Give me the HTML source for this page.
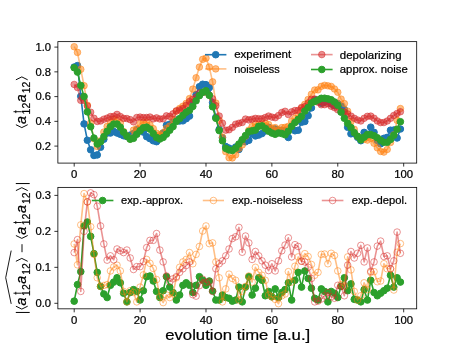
<!DOCTYPE html><html><head><meta charset="utf-8"><style>html,body{margin:0;padding:0;background:#fff;overflow:hidden}svg{display:block;will-change:transform}</style></head><body><svg width="463" height="347" viewBox="0 0 463 347"><rect width="463" height="347" fill="#fff"/><defs><clipPath id="c1"><rect x="57.875" y="41.64" width="358.825" height="121.45"/></clipPath><clipPath id="c2"><rect x="57.875" y="187.38" width="358.825" height="121.44999999999999"/></clipPath></defs><g clip-path="url(#c1)" opacity="1"><path d="M74.19,67.06 L77.48,65.64 L80.78,96.30 L84.07,123.92 L87.37,140.27 L90.66,149.78 L93.96,155.48 L97.25,154.92 L100.55,147.28 L103.84,139.24 L107.14,133.07 L110.43,133.02 L113.73,131.46 L117.02,133.02 L120.32,134.32 L123.61,135.73 L126.91,136.62 L130.20,135.12 L133.50,133.65 L136.79,129.80 L140.09,129.58 L143.38,132.08 L146.68,136.67 L149.97,138.68 L153.27,140.79 L156.56,141.66 L159.86,137.15 L163.15,133.04 L166.45,125.26 L169.74,124.23 L173.04,122.65 L176.33,120.16 L179.63,120.99 L182.92,120.82 L186.22,118.68 L189.51,116.08 L192.81,102.59 L196.10,94.58 L199.40,86.70 L202.69,84.27 L205.99,84.68 L209.28,87.65 L212.58,102.66 L215.87,117.38 L219.17,129.39 L222.46,137.78 L225.76,146.51 L229.05,148.12 L232.35,149.60 L235.64,147.02 L238.93,149.48 L242.23,140.37 L245.52,141.78 L248.82,140.32 L252.11,134.01 L255.41,135.92 L258.70,135.06 L262.00,133.55 L265.29,130.89 L268.59,127.30 L271.88,130.63 L275.18,129.02 L278.47,130.28 L281.77,130.27 L285.06,130.68 L288.36,137.49 L291.65,127.93 L294.95,130.75 L298.24,130.22 L301.54,122.25 L304.83,121.49 L308.13,115.71 L311.42,107.89 L314.72,99.67 L318.01,101.04 L321.31,103.25 L324.60,102.23 L327.90,99.67 L331.19,103.88 L334.49,105.67 L337.78,103.54 L341.08,105.99 L344.37,109.67 L347.67,127.31 L350.96,133.82 L354.26,133.79 L357.55,137.33 L360.85,140.69 L364.14,132.41 L367.44,135.47 L370.73,127.19 L374.03,132.30 L377.32,140.42 L380.62,143.82 L383.91,138.33 L387.21,137.38 L390.50,130.22 L393.80,130.02 L397.09,137.98 L400.39,129.01" fill="none" stroke="#1f77b4" stroke-opacity="1.0" stroke-width="1.6" stroke-linejoin="round" stroke-linecap="butt"/><circle cx="74.19" cy="67.06" r="3.3" fill="#1f77b4" fill-opacity="1.0" stroke="#1f77b4" stroke-opacity="1.0" stroke-width="1"/><circle cx="77.48" cy="65.64" r="3.3" fill="#1f77b4" fill-opacity="1.0" stroke="#1f77b4" stroke-opacity="1.0" stroke-width="1"/><circle cx="80.78" cy="96.30" r="3.3" fill="#1f77b4" fill-opacity="1.0" stroke="#1f77b4" stroke-opacity="1.0" stroke-width="1"/><circle cx="84.07" cy="123.92" r="3.3" fill="#1f77b4" fill-opacity="1.0" stroke="#1f77b4" stroke-opacity="1.0" stroke-width="1"/><circle cx="87.37" cy="140.27" r="3.3" fill="#1f77b4" fill-opacity="1.0" stroke="#1f77b4" stroke-opacity="1.0" stroke-width="1"/><circle cx="90.66" cy="149.78" r="3.3" fill="#1f77b4" fill-opacity="1.0" stroke="#1f77b4" stroke-opacity="1.0" stroke-width="1"/><circle cx="93.96" cy="155.48" r="3.3" fill="#1f77b4" fill-opacity="1.0" stroke="#1f77b4" stroke-opacity="1.0" stroke-width="1"/><circle cx="97.25" cy="154.92" r="3.3" fill="#1f77b4" fill-opacity="1.0" stroke="#1f77b4" stroke-opacity="1.0" stroke-width="1"/><circle cx="100.55" cy="147.28" r="3.3" fill="#1f77b4" fill-opacity="1.0" stroke="#1f77b4" stroke-opacity="1.0" stroke-width="1"/><circle cx="103.84" cy="139.24" r="3.3" fill="#1f77b4" fill-opacity="1.0" stroke="#1f77b4" stroke-opacity="1.0" stroke-width="1"/><circle cx="107.14" cy="133.07" r="3.3" fill="#1f77b4" fill-opacity="1.0" stroke="#1f77b4" stroke-opacity="1.0" stroke-width="1"/><circle cx="110.43" cy="133.02" r="3.3" fill="#1f77b4" fill-opacity="1.0" stroke="#1f77b4" stroke-opacity="1.0" stroke-width="1"/><circle cx="113.73" cy="131.46" r="3.3" fill="#1f77b4" fill-opacity="1.0" stroke="#1f77b4" stroke-opacity="1.0" stroke-width="1"/><circle cx="117.02" cy="133.02" r="3.3" fill="#1f77b4" fill-opacity="1.0" stroke="#1f77b4" stroke-opacity="1.0" stroke-width="1"/><circle cx="120.32" cy="134.32" r="3.3" fill="#1f77b4" fill-opacity="1.0" stroke="#1f77b4" stroke-opacity="1.0" stroke-width="1"/><circle cx="123.61" cy="135.73" r="3.3" fill="#1f77b4" fill-opacity="1.0" stroke="#1f77b4" stroke-opacity="1.0" stroke-width="1"/><circle cx="126.91" cy="136.62" r="3.3" fill="#1f77b4" fill-opacity="1.0" stroke="#1f77b4" stroke-opacity="1.0" stroke-width="1"/><circle cx="130.20" cy="135.12" r="3.3" fill="#1f77b4" fill-opacity="1.0" stroke="#1f77b4" stroke-opacity="1.0" stroke-width="1"/><circle cx="133.50" cy="133.65" r="3.3" fill="#1f77b4" fill-opacity="1.0" stroke="#1f77b4" stroke-opacity="1.0" stroke-width="1"/><circle cx="136.79" cy="129.80" r="3.3" fill="#1f77b4" fill-opacity="1.0" stroke="#1f77b4" stroke-opacity="1.0" stroke-width="1"/><circle cx="140.09" cy="129.58" r="3.3" fill="#1f77b4" fill-opacity="1.0" stroke="#1f77b4" stroke-opacity="1.0" stroke-width="1"/><circle cx="143.38" cy="132.08" r="3.3" fill="#1f77b4" fill-opacity="1.0" stroke="#1f77b4" stroke-opacity="1.0" stroke-width="1"/><circle cx="146.68" cy="136.67" r="3.3" fill="#1f77b4" fill-opacity="1.0" stroke="#1f77b4" stroke-opacity="1.0" stroke-width="1"/><circle cx="149.97" cy="138.68" r="3.3" fill="#1f77b4" fill-opacity="1.0" stroke="#1f77b4" stroke-opacity="1.0" stroke-width="1"/><circle cx="153.27" cy="140.79" r="3.3" fill="#1f77b4" fill-opacity="1.0" stroke="#1f77b4" stroke-opacity="1.0" stroke-width="1"/><circle cx="156.56" cy="141.66" r="3.3" fill="#1f77b4" fill-opacity="1.0" stroke="#1f77b4" stroke-opacity="1.0" stroke-width="1"/><circle cx="159.86" cy="137.15" r="3.3" fill="#1f77b4" fill-opacity="1.0" stroke="#1f77b4" stroke-opacity="1.0" stroke-width="1"/><circle cx="163.15" cy="133.04" r="3.3" fill="#1f77b4" fill-opacity="1.0" stroke="#1f77b4" stroke-opacity="1.0" stroke-width="1"/><circle cx="166.45" cy="125.26" r="3.3" fill="#1f77b4" fill-opacity="1.0" stroke="#1f77b4" stroke-opacity="1.0" stroke-width="1"/><circle cx="169.74" cy="124.23" r="3.3" fill="#1f77b4" fill-opacity="1.0" stroke="#1f77b4" stroke-opacity="1.0" stroke-width="1"/><circle cx="173.04" cy="122.65" r="3.3" fill="#1f77b4" fill-opacity="1.0" stroke="#1f77b4" stroke-opacity="1.0" stroke-width="1"/><circle cx="176.33" cy="120.16" r="3.3" fill="#1f77b4" fill-opacity="1.0" stroke="#1f77b4" stroke-opacity="1.0" stroke-width="1"/><circle cx="179.63" cy="120.99" r="3.3" fill="#1f77b4" fill-opacity="1.0" stroke="#1f77b4" stroke-opacity="1.0" stroke-width="1"/><circle cx="182.92" cy="120.82" r="3.3" fill="#1f77b4" fill-opacity="1.0" stroke="#1f77b4" stroke-opacity="1.0" stroke-width="1"/><circle cx="186.22" cy="118.68" r="3.3" fill="#1f77b4" fill-opacity="1.0" stroke="#1f77b4" stroke-opacity="1.0" stroke-width="1"/><circle cx="189.51" cy="116.08" r="3.3" fill="#1f77b4" fill-opacity="1.0" stroke="#1f77b4" stroke-opacity="1.0" stroke-width="1"/><circle cx="192.81" cy="102.59" r="3.3" fill="#1f77b4" fill-opacity="1.0" stroke="#1f77b4" stroke-opacity="1.0" stroke-width="1"/><circle cx="196.10" cy="94.58" r="3.3" fill="#1f77b4" fill-opacity="1.0" stroke="#1f77b4" stroke-opacity="1.0" stroke-width="1"/><circle cx="199.40" cy="86.70" r="3.3" fill="#1f77b4" fill-opacity="1.0" stroke="#1f77b4" stroke-opacity="1.0" stroke-width="1"/><circle cx="202.69" cy="84.27" r="3.3" fill="#1f77b4" fill-opacity="1.0" stroke="#1f77b4" stroke-opacity="1.0" stroke-width="1"/><circle cx="205.99" cy="84.68" r="3.3" fill="#1f77b4" fill-opacity="1.0" stroke="#1f77b4" stroke-opacity="1.0" stroke-width="1"/><circle cx="209.28" cy="87.65" r="3.3" fill="#1f77b4" fill-opacity="1.0" stroke="#1f77b4" stroke-opacity="1.0" stroke-width="1"/><circle cx="212.58" cy="102.66" r="3.3" fill="#1f77b4" fill-opacity="1.0" stroke="#1f77b4" stroke-opacity="1.0" stroke-width="1"/><circle cx="215.87" cy="117.38" r="3.3" fill="#1f77b4" fill-opacity="1.0" stroke="#1f77b4" stroke-opacity="1.0" stroke-width="1"/><circle cx="219.17" cy="129.39" r="3.3" fill="#1f77b4" fill-opacity="1.0" stroke="#1f77b4" stroke-opacity="1.0" stroke-width="1"/><circle cx="222.46" cy="137.78" r="3.3" fill="#1f77b4" fill-opacity="1.0" stroke="#1f77b4" stroke-opacity="1.0" stroke-width="1"/><circle cx="225.76" cy="146.51" r="3.3" fill="#1f77b4" fill-opacity="1.0" stroke="#1f77b4" stroke-opacity="1.0" stroke-width="1"/><circle cx="229.05" cy="148.12" r="3.3" fill="#1f77b4" fill-opacity="1.0" stroke="#1f77b4" stroke-opacity="1.0" stroke-width="1"/><circle cx="232.35" cy="149.60" r="3.3" fill="#1f77b4" fill-opacity="1.0" stroke="#1f77b4" stroke-opacity="1.0" stroke-width="1"/><circle cx="235.64" cy="147.02" r="3.3" fill="#1f77b4" fill-opacity="1.0" stroke="#1f77b4" stroke-opacity="1.0" stroke-width="1"/><circle cx="238.93" cy="149.48" r="3.3" fill="#1f77b4" fill-opacity="1.0" stroke="#1f77b4" stroke-opacity="1.0" stroke-width="1"/><circle cx="242.23" cy="140.37" r="3.3" fill="#1f77b4" fill-opacity="1.0" stroke="#1f77b4" stroke-opacity="1.0" stroke-width="1"/><circle cx="245.52" cy="141.78" r="3.3" fill="#1f77b4" fill-opacity="1.0" stroke="#1f77b4" stroke-opacity="1.0" stroke-width="1"/><circle cx="248.82" cy="140.32" r="3.3" fill="#1f77b4" fill-opacity="1.0" stroke="#1f77b4" stroke-opacity="1.0" stroke-width="1"/><circle cx="252.11" cy="134.01" r="3.3" fill="#1f77b4" fill-opacity="1.0" stroke="#1f77b4" stroke-opacity="1.0" stroke-width="1"/><circle cx="255.41" cy="135.92" r="3.3" fill="#1f77b4" fill-opacity="1.0" stroke="#1f77b4" stroke-opacity="1.0" stroke-width="1"/><circle cx="258.70" cy="135.06" r="3.3" fill="#1f77b4" fill-opacity="1.0" stroke="#1f77b4" stroke-opacity="1.0" stroke-width="1"/><circle cx="262.00" cy="133.55" r="3.3" fill="#1f77b4" fill-opacity="1.0" stroke="#1f77b4" stroke-opacity="1.0" stroke-width="1"/><circle cx="265.29" cy="130.89" r="3.3" fill="#1f77b4" fill-opacity="1.0" stroke="#1f77b4" stroke-opacity="1.0" stroke-width="1"/><circle cx="268.59" cy="127.30" r="3.3" fill="#1f77b4" fill-opacity="1.0" stroke="#1f77b4" stroke-opacity="1.0" stroke-width="1"/><circle cx="271.88" cy="130.63" r="3.3" fill="#1f77b4" fill-opacity="1.0" stroke="#1f77b4" stroke-opacity="1.0" stroke-width="1"/><circle cx="275.18" cy="129.02" r="3.3" fill="#1f77b4" fill-opacity="1.0" stroke="#1f77b4" stroke-opacity="1.0" stroke-width="1"/><circle cx="278.47" cy="130.28" r="3.3" fill="#1f77b4" fill-opacity="1.0" stroke="#1f77b4" stroke-opacity="1.0" stroke-width="1"/><circle cx="281.77" cy="130.27" r="3.3" fill="#1f77b4" fill-opacity="1.0" stroke="#1f77b4" stroke-opacity="1.0" stroke-width="1"/><circle cx="285.06" cy="130.68" r="3.3" fill="#1f77b4" fill-opacity="1.0" stroke="#1f77b4" stroke-opacity="1.0" stroke-width="1"/><circle cx="288.36" cy="137.49" r="3.3" fill="#1f77b4" fill-opacity="1.0" stroke="#1f77b4" stroke-opacity="1.0" stroke-width="1"/><circle cx="291.65" cy="127.93" r="3.3" fill="#1f77b4" fill-opacity="1.0" stroke="#1f77b4" stroke-opacity="1.0" stroke-width="1"/><circle cx="294.95" cy="130.75" r="3.3" fill="#1f77b4" fill-opacity="1.0" stroke="#1f77b4" stroke-opacity="1.0" stroke-width="1"/><circle cx="298.24" cy="130.22" r="3.3" fill="#1f77b4" fill-opacity="1.0" stroke="#1f77b4" stroke-opacity="1.0" stroke-width="1"/><circle cx="301.54" cy="122.25" r="3.3" fill="#1f77b4" fill-opacity="1.0" stroke="#1f77b4" stroke-opacity="1.0" stroke-width="1"/><circle cx="304.83" cy="121.49" r="3.3" fill="#1f77b4" fill-opacity="1.0" stroke="#1f77b4" stroke-opacity="1.0" stroke-width="1"/><circle cx="308.13" cy="115.71" r="3.3" fill="#1f77b4" fill-opacity="1.0" stroke="#1f77b4" stroke-opacity="1.0" stroke-width="1"/><circle cx="311.42" cy="107.89" r="3.3" fill="#1f77b4" fill-opacity="1.0" stroke="#1f77b4" stroke-opacity="1.0" stroke-width="1"/><circle cx="314.72" cy="99.67" r="3.3" fill="#1f77b4" fill-opacity="1.0" stroke="#1f77b4" stroke-opacity="1.0" stroke-width="1"/><circle cx="318.01" cy="101.04" r="3.3" fill="#1f77b4" fill-opacity="1.0" stroke="#1f77b4" stroke-opacity="1.0" stroke-width="1"/><circle cx="321.31" cy="103.25" r="3.3" fill="#1f77b4" fill-opacity="1.0" stroke="#1f77b4" stroke-opacity="1.0" stroke-width="1"/><circle cx="324.60" cy="102.23" r="3.3" fill="#1f77b4" fill-opacity="1.0" stroke="#1f77b4" stroke-opacity="1.0" stroke-width="1"/><circle cx="327.90" cy="99.67" r="3.3" fill="#1f77b4" fill-opacity="1.0" stroke="#1f77b4" stroke-opacity="1.0" stroke-width="1"/><circle cx="331.19" cy="103.88" r="3.3" fill="#1f77b4" fill-opacity="1.0" stroke="#1f77b4" stroke-opacity="1.0" stroke-width="1"/><circle cx="334.49" cy="105.67" r="3.3" fill="#1f77b4" fill-opacity="1.0" stroke="#1f77b4" stroke-opacity="1.0" stroke-width="1"/><circle cx="337.78" cy="103.54" r="3.3" fill="#1f77b4" fill-opacity="1.0" stroke="#1f77b4" stroke-opacity="1.0" stroke-width="1"/><circle cx="341.08" cy="105.99" r="3.3" fill="#1f77b4" fill-opacity="1.0" stroke="#1f77b4" stroke-opacity="1.0" stroke-width="1"/><circle cx="344.37" cy="109.67" r="3.3" fill="#1f77b4" fill-opacity="1.0" stroke="#1f77b4" stroke-opacity="1.0" stroke-width="1"/><circle cx="347.67" cy="127.31" r="3.3" fill="#1f77b4" fill-opacity="1.0" stroke="#1f77b4" stroke-opacity="1.0" stroke-width="1"/><circle cx="350.96" cy="133.82" r="3.3" fill="#1f77b4" fill-opacity="1.0" stroke="#1f77b4" stroke-opacity="1.0" stroke-width="1"/><circle cx="354.26" cy="133.79" r="3.3" fill="#1f77b4" fill-opacity="1.0" stroke="#1f77b4" stroke-opacity="1.0" stroke-width="1"/><circle cx="357.55" cy="137.33" r="3.3" fill="#1f77b4" fill-opacity="1.0" stroke="#1f77b4" stroke-opacity="1.0" stroke-width="1"/><circle cx="360.85" cy="140.69" r="3.3" fill="#1f77b4" fill-opacity="1.0" stroke="#1f77b4" stroke-opacity="1.0" stroke-width="1"/><circle cx="364.14" cy="132.41" r="3.3" fill="#1f77b4" fill-opacity="1.0" stroke="#1f77b4" stroke-opacity="1.0" stroke-width="1"/><circle cx="367.44" cy="135.47" r="3.3" fill="#1f77b4" fill-opacity="1.0" stroke="#1f77b4" stroke-opacity="1.0" stroke-width="1"/><circle cx="370.73" cy="127.19" r="3.3" fill="#1f77b4" fill-opacity="1.0" stroke="#1f77b4" stroke-opacity="1.0" stroke-width="1"/><circle cx="374.03" cy="132.30" r="3.3" fill="#1f77b4" fill-opacity="1.0" stroke="#1f77b4" stroke-opacity="1.0" stroke-width="1"/><circle cx="377.32" cy="140.42" r="3.3" fill="#1f77b4" fill-opacity="1.0" stroke="#1f77b4" stroke-opacity="1.0" stroke-width="1"/><circle cx="380.62" cy="143.82" r="3.3" fill="#1f77b4" fill-opacity="1.0" stroke="#1f77b4" stroke-opacity="1.0" stroke-width="1"/><circle cx="383.91" cy="138.33" r="3.3" fill="#1f77b4" fill-opacity="1.0" stroke="#1f77b4" stroke-opacity="1.0" stroke-width="1"/><circle cx="387.21" cy="137.38" r="3.3" fill="#1f77b4" fill-opacity="1.0" stroke="#1f77b4" stroke-opacity="1.0" stroke-width="1"/><circle cx="390.50" cy="130.22" r="3.3" fill="#1f77b4" fill-opacity="1.0" stroke="#1f77b4" stroke-opacity="1.0" stroke-width="1"/><circle cx="393.80" cy="130.02" r="3.3" fill="#1f77b4" fill-opacity="1.0" stroke="#1f77b4" stroke-opacity="1.0" stroke-width="1"/><circle cx="397.09" cy="137.98" r="3.3" fill="#1f77b4" fill-opacity="1.0" stroke="#1f77b4" stroke-opacity="1.0" stroke-width="1"/><circle cx="400.39" cy="129.01" r="3.3" fill="#1f77b4" fill-opacity="1.0" stroke="#1f77b4" stroke-opacity="1.0" stroke-width="1"/></g><g clip-path="url(#c1)" opacity="1"><path d="M74.19,46.72 L77.48,52.41 L80.78,69.34 L84.07,85.69 L87.37,105.20 L90.66,123.06 L93.96,138.87 L97.25,146.57 L100.55,140.75 L103.84,132.03 L107.14,126.40 L110.43,122.03 L113.73,119.27 L117.02,120.05 L120.32,123.00 L123.61,131.58 L126.91,135.92 L130.20,138.98 L133.50,130.16 L136.79,128.56 L140.09,123.75 L143.38,122.35 L146.68,121.86 L149.97,124.98 L153.27,128.61 L156.56,133.28 L159.86,134.80 L163.15,132.70 L166.45,128.38 L169.74,126.14 L173.04,119.54 L176.33,111.21 L179.63,108.49 L182.92,106.24 L186.22,103.42 L189.51,98.56 L192.81,89.11 L196.10,77.78 L199.40,67.10 L202.69,59.35 L205.99,58.15 L209.28,67.07 L212.58,81.85 L215.87,103.06 L219.17,120.31 L222.46,137.17 L225.76,151.69 L229.05,157.71 L232.35,157.92 L235.64,154.81 L238.93,148.49 L242.23,144.91 L245.52,136.22 L248.82,130.24 L252.11,126.60 L255.41,123.85 L258.70,124.46 L262.00,123.90 L265.29,123.01 L268.59,124.58 L271.88,128.17 L275.18,127.60 L278.47,129.90 L281.77,127.67 L285.06,127.33 L288.36,126.32 L291.65,121.07 L294.95,118.38 L298.24,114.72 L301.54,108.36 L304.83,104.35 L308.13,99.48 L311.42,94.27 L314.72,89.99 L318.01,89.86 L321.31,86.37 L324.60,85.29 L327.90,85.82 L331.19,86.44 L334.49,88.99 L337.78,92.32 L341.08,99.10 L344.37,103.60 L347.67,111.19 L350.96,121.73 L354.26,129.33 L357.55,136.20 L360.85,138.28 L364.14,139.29 L367.44,140.12 L370.73,138.35 L374.03,143.29 L377.32,147.80 L380.62,151.46 L383.91,152.09 L387.21,149.49 L390.50,142.52 L393.80,134.88 L397.09,120.37 L400.39,108.54" fill="none" stroke="#ff7f0e" stroke-opacity="0.5" stroke-width="1.6" stroke-linejoin="round" stroke-linecap="butt"/><circle cx="74.19" cy="46.72" r="3.3" fill="#ff7f0e" fill-opacity="0.5" stroke="#ff7f0e" stroke-opacity="0.5" stroke-width="1"/><circle cx="77.48" cy="52.41" r="3.3" fill="#ff7f0e" fill-opacity="0.5" stroke="#ff7f0e" stroke-opacity="0.5" stroke-width="1"/><circle cx="80.78" cy="69.34" r="3.3" fill="#ff7f0e" fill-opacity="0.5" stroke="#ff7f0e" stroke-opacity="0.5" stroke-width="1"/><circle cx="84.07" cy="85.69" r="3.3" fill="#ff7f0e" fill-opacity="0.5" stroke="#ff7f0e" stroke-opacity="0.5" stroke-width="1"/><circle cx="87.37" cy="105.20" r="3.3" fill="#ff7f0e" fill-opacity="0.5" stroke="#ff7f0e" stroke-opacity="0.5" stroke-width="1"/><circle cx="90.66" cy="123.06" r="3.3" fill="#ff7f0e" fill-opacity="0.5" stroke="#ff7f0e" stroke-opacity="0.5" stroke-width="1"/><circle cx="93.96" cy="138.87" r="3.3" fill="#ff7f0e" fill-opacity="0.5" stroke="#ff7f0e" stroke-opacity="0.5" stroke-width="1"/><circle cx="97.25" cy="146.57" r="3.3" fill="#ff7f0e" fill-opacity="0.5" stroke="#ff7f0e" stroke-opacity="0.5" stroke-width="1"/><circle cx="100.55" cy="140.75" r="3.3" fill="#ff7f0e" fill-opacity="0.5" stroke="#ff7f0e" stroke-opacity="0.5" stroke-width="1"/><circle cx="103.84" cy="132.03" r="3.3" fill="#ff7f0e" fill-opacity="0.5" stroke="#ff7f0e" stroke-opacity="0.5" stroke-width="1"/><circle cx="107.14" cy="126.40" r="3.3" fill="#ff7f0e" fill-opacity="0.5" stroke="#ff7f0e" stroke-opacity="0.5" stroke-width="1"/><circle cx="110.43" cy="122.03" r="3.3" fill="#ff7f0e" fill-opacity="0.5" stroke="#ff7f0e" stroke-opacity="0.5" stroke-width="1"/><circle cx="113.73" cy="119.27" r="3.3" fill="#ff7f0e" fill-opacity="0.5" stroke="#ff7f0e" stroke-opacity="0.5" stroke-width="1"/><circle cx="117.02" cy="120.05" r="3.3" fill="#ff7f0e" fill-opacity="0.5" stroke="#ff7f0e" stroke-opacity="0.5" stroke-width="1"/><circle cx="120.32" cy="123.00" r="3.3" fill="#ff7f0e" fill-opacity="0.5" stroke="#ff7f0e" stroke-opacity="0.5" stroke-width="1"/><circle cx="123.61" cy="131.58" r="3.3" fill="#ff7f0e" fill-opacity="0.5" stroke="#ff7f0e" stroke-opacity="0.5" stroke-width="1"/><circle cx="126.91" cy="135.92" r="3.3" fill="#ff7f0e" fill-opacity="0.5" stroke="#ff7f0e" stroke-opacity="0.5" stroke-width="1"/><circle cx="130.20" cy="138.98" r="3.3" fill="#ff7f0e" fill-opacity="0.5" stroke="#ff7f0e" stroke-opacity="0.5" stroke-width="1"/><circle cx="133.50" cy="130.16" r="3.3" fill="#ff7f0e" fill-opacity="0.5" stroke="#ff7f0e" stroke-opacity="0.5" stroke-width="1"/><circle cx="136.79" cy="128.56" r="3.3" fill="#ff7f0e" fill-opacity="0.5" stroke="#ff7f0e" stroke-opacity="0.5" stroke-width="1"/><circle cx="140.09" cy="123.75" r="3.3" fill="#ff7f0e" fill-opacity="0.5" stroke="#ff7f0e" stroke-opacity="0.5" stroke-width="1"/><circle cx="143.38" cy="122.35" r="3.3" fill="#ff7f0e" fill-opacity="0.5" stroke="#ff7f0e" stroke-opacity="0.5" stroke-width="1"/><circle cx="146.68" cy="121.86" r="3.3" fill="#ff7f0e" fill-opacity="0.5" stroke="#ff7f0e" stroke-opacity="0.5" stroke-width="1"/><circle cx="149.97" cy="124.98" r="3.3" fill="#ff7f0e" fill-opacity="0.5" stroke="#ff7f0e" stroke-opacity="0.5" stroke-width="1"/><circle cx="153.27" cy="128.61" r="3.3" fill="#ff7f0e" fill-opacity="0.5" stroke="#ff7f0e" stroke-opacity="0.5" stroke-width="1"/><circle cx="156.56" cy="133.28" r="3.3" fill="#ff7f0e" fill-opacity="0.5" stroke="#ff7f0e" stroke-opacity="0.5" stroke-width="1"/><circle cx="159.86" cy="134.80" r="3.3" fill="#ff7f0e" fill-opacity="0.5" stroke="#ff7f0e" stroke-opacity="0.5" stroke-width="1"/><circle cx="163.15" cy="132.70" r="3.3" fill="#ff7f0e" fill-opacity="0.5" stroke="#ff7f0e" stroke-opacity="0.5" stroke-width="1"/><circle cx="166.45" cy="128.38" r="3.3" fill="#ff7f0e" fill-opacity="0.5" stroke="#ff7f0e" stroke-opacity="0.5" stroke-width="1"/><circle cx="169.74" cy="126.14" r="3.3" fill="#ff7f0e" fill-opacity="0.5" stroke="#ff7f0e" stroke-opacity="0.5" stroke-width="1"/><circle cx="173.04" cy="119.54" r="3.3" fill="#ff7f0e" fill-opacity="0.5" stroke="#ff7f0e" stroke-opacity="0.5" stroke-width="1"/><circle cx="176.33" cy="111.21" r="3.3" fill="#ff7f0e" fill-opacity="0.5" stroke="#ff7f0e" stroke-opacity="0.5" stroke-width="1"/><circle cx="179.63" cy="108.49" r="3.3" fill="#ff7f0e" fill-opacity="0.5" stroke="#ff7f0e" stroke-opacity="0.5" stroke-width="1"/><circle cx="182.92" cy="106.24" r="3.3" fill="#ff7f0e" fill-opacity="0.5" stroke="#ff7f0e" stroke-opacity="0.5" stroke-width="1"/><circle cx="186.22" cy="103.42" r="3.3" fill="#ff7f0e" fill-opacity="0.5" stroke="#ff7f0e" stroke-opacity="0.5" stroke-width="1"/><circle cx="189.51" cy="98.56" r="3.3" fill="#ff7f0e" fill-opacity="0.5" stroke="#ff7f0e" stroke-opacity="0.5" stroke-width="1"/><circle cx="192.81" cy="89.11" r="3.3" fill="#ff7f0e" fill-opacity="0.5" stroke="#ff7f0e" stroke-opacity="0.5" stroke-width="1"/><circle cx="196.10" cy="77.78" r="3.3" fill="#ff7f0e" fill-opacity="0.5" stroke="#ff7f0e" stroke-opacity="0.5" stroke-width="1"/><circle cx="199.40" cy="67.10" r="3.3" fill="#ff7f0e" fill-opacity="0.5" stroke="#ff7f0e" stroke-opacity="0.5" stroke-width="1"/><circle cx="202.69" cy="59.35" r="3.3" fill="#ff7f0e" fill-opacity="0.5" stroke="#ff7f0e" stroke-opacity="0.5" stroke-width="1"/><circle cx="205.99" cy="58.15" r="3.3" fill="#ff7f0e" fill-opacity="0.5" stroke="#ff7f0e" stroke-opacity="0.5" stroke-width="1"/><circle cx="209.28" cy="67.07" r="3.3" fill="#ff7f0e" fill-opacity="0.5" stroke="#ff7f0e" stroke-opacity="0.5" stroke-width="1"/><circle cx="212.58" cy="81.85" r="3.3" fill="#ff7f0e" fill-opacity="0.5" stroke="#ff7f0e" stroke-opacity="0.5" stroke-width="1"/><circle cx="215.87" cy="103.06" r="3.3" fill="#ff7f0e" fill-opacity="0.5" stroke="#ff7f0e" stroke-opacity="0.5" stroke-width="1"/><circle cx="219.17" cy="120.31" r="3.3" fill="#ff7f0e" fill-opacity="0.5" stroke="#ff7f0e" stroke-opacity="0.5" stroke-width="1"/><circle cx="222.46" cy="137.17" r="3.3" fill="#ff7f0e" fill-opacity="0.5" stroke="#ff7f0e" stroke-opacity="0.5" stroke-width="1"/><circle cx="225.76" cy="151.69" r="3.3" fill="#ff7f0e" fill-opacity="0.5" stroke="#ff7f0e" stroke-opacity="0.5" stroke-width="1"/><circle cx="229.05" cy="157.71" r="3.3" fill="#ff7f0e" fill-opacity="0.5" stroke="#ff7f0e" stroke-opacity="0.5" stroke-width="1"/><circle cx="232.35" cy="157.92" r="3.3" fill="#ff7f0e" fill-opacity="0.5" stroke="#ff7f0e" stroke-opacity="0.5" stroke-width="1"/><circle cx="235.64" cy="154.81" r="3.3" fill="#ff7f0e" fill-opacity="0.5" stroke="#ff7f0e" stroke-opacity="0.5" stroke-width="1"/><circle cx="238.93" cy="148.49" r="3.3" fill="#ff7f0e" fill-opacity="0.5" stroke="#ff7f0e" stroke-opacity="0.5" stroke-width="1"/><circle cx="242.23" cy="144.91" r="3.3" fill="#ff7f0e" fill-opacity="0.5" stroke="#ff7f0e" stroke-opacity="0.5" stroke-width="1"/><circle cx="245.52" cy="136.22" r="3.3" fill="#ff7f0e" fill-opacity="0.5" stroke="#ff7f0e" stroke-opacity="0.5" stroke-width="1"/><circle cx="248.82" cy="130.24" r="3.3" fill="#ff7f0e" fill-opacity="0.5" stroke="#ff7f0e" stroke-opacity="0.5" stroke-width="1"/><circle cx="252.11" cy="126.60" r="3.3" fill="#ff7f0e" fill-opacity="0.5" stroke="#ff7f0e" stroke-opacity="0.5" stroke-width="1"/><circle cx="255.41" cy="123.85" r="3.3" fill="#ff7f0e" fill-opacity="0.5" stroke="#ff7f0e" stroke-opacity="0.5" stroke-width="1"/><circle cx="258.70" cy="124.46" r="3.3" fill="#ff7f0e" fill-opacity="0.5" stroke="#ff7f0e" stroke-opacity="0.5" stroke-width="1"/><circle cx="262.00" cy="123.90" r="3.3" fill="#ff7f0e" fill-opacity="0.5" stroke="#ff7f0e" stroke-opacity="0.5" stroke-width="1"/><circle cx="265.29" cy="123.01" r="3.3" fill="#ff7f0e" fill-opacity="0.5" stroke="#ff7f0e" stroke-opacity="0.5" stroke-width="1"/><circle cx="268.59" cy="124.58" r="3.3" fill="#ff7f0e" fill-opacity="0.5" stroke="#ff7f0e" stroke-opacity="0.5" stroke-width="1"/><circle cx="271.88" cy="128.17" r="3.3" fill="#ff7f0e" fill-opacity="0.5" stroke="#ff7f0e" stroke-opacity="0.5" stroke-width="1"/><circle cx="275.18" cy="127.60" r="3.3" fill="#ff7f0e" fill-opacity="0.5" stroke="#ff7f0e" stroke-opacity="0.5" stroke-width="1"/><circle cx="278.47" cy="129.90" r="3.3" fill="#ff7f0e" fill-opacity="0.5" stroke="#ff7f0e" stroke-opacity="0.5" stroke-width="1"/><circle cx="281.77" cy="127.67" r="3.3" fill="#ff7f0e" fill-opacity="0.5" stroke="#ff7f0e" stroke-opacity="0.5" stroke-width="1"/><circle cx="285.06" cy="127.33" r="3.3" fill="#ff7f0e" fill-opacity="0.5" stroke="#ff7f0e" stroke-opacity="0.5" stroke-width="1"/><circle cx="288.36" cy="126.32" r="3.3" fill="#ff7f0e" fill-opacity="0.5" stroke="#ff7f0e" stroke-opacity="0.5" stroke-width="1"/><circle cx="291.65" cy="121.07" r="3.3" fill="#ff7f0e" fill-opacity="0.5" stroke="#ff7f0e" stroke-opacity="0.5" stroke-width="1"/><circle cx="294.95" cy="118.38" r="3.3" fill="#ff7f0e" fill-opacity="0.5" stroke="#ff7f0e" stroke-opacity="0.5" stroke-width="1"/><circle cx="298.24" cy="114.72" r="3.3" fill="#ff7f0e" fill-opacity="0.5" stroke="#ff7f0e" stroke-opacity="0.5" stroke-width="1"/><circle cx="301.54" cy="108.36" r="3.3" fill="#ff7f0e" fill-opacity="0.5" stroke="#ff7f0e" stroke-opacity="0.5" stroke-width="1"/><circle cx="304.83" cy="104.35" r="3.3" fill="#ff7f0e" fill-opacity="0.5" stroke="#ff7f0e" stroke-opacity="0.5" stroke-width="1"/><circle cx="308.13" cy="99.48" r="3.3" fill="#ff7f0e" fill-opacity="0.5" stroke="#ff7f0e" stroke-opacity="0.5" stroke-width="1"/><circle cx="311.42" cy="94.27" r="3.3" fill="#ff7f0e" fill-opacity="0.5" stroke="#ff7f0e" stroke-opacity="0.5" stroke-width="1"/><circle cx="314.72" cy="89.99" r="3.3" fill="#ff7f0e" fill-opacity="0.5" stroke="#ff7f0e" stroke-opacity="0.5" stroke-width="1"/><circle cx="318.01" cy="89.86" r="3.3" fill="#ff7f0e" fill-opacity="0.5" stroke="#ff7f0e" stroke-opacity="0.5" stroke-width="1"/><circle cx="321.31" cy="86.37" r="3.3" fill="#ff7f0e" fill-opacity="0.5" stroke="#ff7f0e" stroke-opacity="0.5" stroke-width="1"/><circle cx="324.60" cy="85.29" r="3.3" fill="#ff7f0e" fill-opacity="0.5" stroke="#ff7f0e" stroke-opacity="0.5" stroke-width="1"/><circle cx="327.90" cy="85.82" r="3.3" fill="#ff7f0e" fill-opacity="0.5" stroke="#ff7f0e" stroke-opacity="0.5" stroke-width="1"/><circle cx="331.19" cy="86.44" r="3.3" fill="#ff7f0e" fill-opacity="0.5" stroke="#ff7f0e" stroke-opacity="0.5" stroke-width="1"/><circle cx="334.49" cy="88.99" r="3.3" fill="#ff7f0e" fill-opacity="0.5" stroke="#ff7f0e" stroke-opacity="0.5" stroke-width="1"/><circle cx="337.78" cy="92.32" r="3.3" fill="#ff7f0e" fill-opacity="0.5" stroke="#ff7f0e" stroke-opacity="0.5" stroke-width="1"/><circle cx="341.08" cy="99.10" r="3.3" fill="#ff7f0e" fill-opacity="0.5" stroke="#ff7f0e" stroke-opacity="0.5" stroke-width="1"/><circle cx="344.37" cy="103.60" r="3.3" fill="#ff7f0e" fill-opacity="0.5" stroke="#ff7f0e" stroke-opacity="0.5" stroke-width="1"/><circle cx="347.67" cy="111.19" r="3.3" fill="#ff7f0e" fill-opacity="0.5" stroke="#ff7f0e" stroke-opacity="0.5" stroke-width="1"/><circle cx="350.96" cy="121.73" r="3.3" fill="#ff7f0e" fill-opacity="0.5" stroke="#ff7f0e" stroke-opacity="0.5" stroke-width="1"/><circle cx="354.26" cy="129.33" r="3.3" fill="#ff7f0e" fill-opacity="0.5" stroke="#ff7f0e" stroke-opacity="0.5" stroke-width="1"/><circle cx="357.55" cy="136.20" r="3.3" fill="#ff7f0e" fill-opacity="0.5" stroke="#ff7f0e" stroke-opacity="0.5" stroke-width="1"/><circle cx="360.85" cy="138.28" r="3.3" fill="#ff7f0e" fill-opacity="0.5" stroke="#ff7f0e" stroke-opacity="0.5" stroke-width="1"/><circle cx="364.14" cy="139.29" r="3.3" fill="#ff7f0e" fill-opacity="0.5" stroke="#ff7f0e" stroke-opacity="0.5" stroke-width="1"/><circle cx="367.44" cy="140.12" r="3.3" fill="#ff7f0e" fill-opacity="0.5" stroke="#ff7f0e" stroke-opacity="0.5" stroke-width="1"/><circle cx="370.73" cy="138.35" r="3.3" fill="#ff7f0e" fill-opacity="0.5" stroke="#ff7f0e" stroke-opacity="0.5" stroke-width="1"/><circle cx="374.03" cy="143.29" r="3.3" fill="#ff7f0e" fill-opacity="0.5" stroke="#ff7f0e" stroke-opacity="0.5" stroke-width="1"/><circle cx="377.32" cy="147.80" r="3.3" fill="#ff7f0e" fill-opacity="0.5" stroke="#ff7f0e" stroke-opacity="0.5" stroke-width="1"/><circle cx="380.62" cy="151.46" r="3.3" fill="#ff7f0e" fill-opacity="0.5" stroke="#ff7f0e" stroke-opacity="0.5" stroke-width="1"/><circle cx="383.91" cy="152.09" r="3.3" fill="#ff7f0e" fill-opacity="0.5" stroke="#ff7f0e" stroke-opacity="0.5" stroke-width="1"/><circle cx="387.21" cy="149.49" r="3.3" fill="#ff7f0e" fill-opacity="0.5" stroke="#ff7f0e" stroke-opacity="0.5" stroke-width="1"/><circle cx="390.50" cy="142.52" r="3.3" fill="#ff7f0e" fill-opacity="0.5" stroke="#ff7f0e" stroke-opacity="0.5" stroke-width="1"/><circle cx="393.80" cy="134.88" r="3.3" fill="#ff7f0e" fill-opacity="0.5" stroke="#ff7f0e" stroke-opacity="0.5" stroke-width="1"/><circle cx="397.09" cy="120.37" r="3.3" fill="#ff7f0e" fill-opacity="0.5" stroke="#ff7f0e" stroke-opacity="0.5" stroke-width="1"/><circle cx="400.39" cy="108.54" r="3.3" fill="#ff7f0e" fill-opacity="0.5" stroke="#ff7f0e" stroke-opacity="0.5" stroke-width="1"/></g><g clip-path="url(#c1)" opacity="1"><path d="M74.19,84.46 L77.48,87.55 L80.78,100.35 L84.07,100.46 L87.37,106.00 L90.66,112.23 L93.96,118.27 L97.25,121.44 L100.55,121.00 L103.84,119.20 L107.14,118.16 L110.43,116.61 L113.73,116.34 L117.02,114.40 L120.32,116.50 L123.61,118.40 L126.91,118.54 L130.20,119.65 L133.50,121.83 L136.79,117.50 L140.09,117.07 L143.38,117.60 L146.68,117.51 L149.97,117.02 L153.27,118.88 L156.56,117.90 L159.86,118.97 L163.15,118.84 L166.45,115.84 L169.74,116.41 L173.04,113.81 L176.33,110.87 L179.63,110.00 L182.92,108.53 L186.22,105.26 L189.51,101.43 L192.81,99.26 L196.10,96.97 L199.40,93.00 L202.69,92.52 L205.99,91.93 L209.28,95.13 L212.58,98.73 L215.87,105.79 L219.17,116.00 L222.46,123.18 L225.76,130.19 L229.05,129.78 L232.35,127.39 L235.64,124.22 L238.93,123.26 L242.23,122.44 L245.52,119.05 L248.82,119.91 L252.11,119.27 L255.41,118.38 L258.70,118.69 L262.00,118.76 L265.29,117.49 L268.59,116.05 L271.88,117.11 L275.18,117.71 L278.47,115.55 L281.77,112.55 L285.06,111.28 L288.36,114.57 L291.65,111.88 L294.95,110.52 L298.24,110.35 L301.54,107.44 L304.83,106.57 L308.13,103.00 L311.42,99.27 L314.72,99.03 L318.01,102.21 L321.31,104.74 L324.60,104.69 L327.90,103.72 L331.19,106.18 L334.49,107.61 L337.78,109.75 L341.08,111.52 L344.37,112.12 L347.67,113.94 L350.96,116.07 L354.26,118.29 L357.55,120.01 L360.85,120.98 L364.14,118.33 L367.44,116.33 L370.73,116.13 L374.03,118.23 L377.32,120.95 L380.62,122.60 L383.91,122.54 L387.21,121.04 L390.50,118.33 L393.80,115.46 L397.09,113.47 L400.39,111.75" fill="none" stroke="#d62728" stroke-opacity="0.5" stroke-width="1.6" stroke-linejoin="round" stroke-linecap="butt"/><circle cx="74.19" cy="84.46" r="3.3" fill="#d62728" fill-opacity="0.5" stroke="#d62728" stroke-opacity="0.5" stroke-width="1"/><circle cx="77.48" cy="87.55" r="3.3" fill="#d62728" fill-opacity="0.5" stroke="#d62728" stroke-opacity="0.5" stroke-width="1"/><circle cx="80.78" cy="100.35" r="3.3" fill="#d62728" fill-opacity="0.5" stroke="#d62728" stroke-opacity="0.5" stroke-width="1"/><circle cx="84.07" cy="100.46" r="3.3" fill="#d62728" fill-opacity="0.5" stroke="#d62728" stroke-opacity="0.5" stroke-width="1"/><circle cx="87.37" cy="106.00" r="3.3" fill="#d62728" fill-opacity="0.5" stroke="#d62728" stroke-opacity="0.5" stroke-width="1"/><circle cx="90.66" cy="112.23" r="3.3" fill="#d62728" fill-opacity="0.5" stroke="#d62728" stroke-opacity="0.5" stroke-width="1"/><circle cx="93.96" cy="118.27" r="3.3" fill="#d62728" fill-opacity="0.5" stroke="#d62728" stroke-opacity="0.5" stroke-width="1"/><circle cx="97.25" cy="121.44" r="3.3" fill="#d62728" fill-opacity="0.5" stroke="#d62728" stroke-opacity="0.5" stroke-width="1"/><circle cx="100.55" cy="121.00" r="3.3" fill="#d62728" fill-opacity="0.5" stroke="#d62728" stroke-opacity="0.5" stroke-width="1"/><circle cx="103.84" cy="119.20" r="3.3" fill="#d62728" fill-opacity="0.5" stroke="#d62728" stroke-opacity="0.5" stroke-width="1"/><circle cx="107.14" cy="118.16" r="3.3" fill="#d62728" fill-opacity="0.5" stroke="#d62728" stroke-opacity="0.5" stroke-width="1"/><circle cx="110.43" cy="116.61" r="3.3" fill="#d62728" fill-opacity="0.5" stroke="#d62728" stroke-opacity="0.5" stroke-width="1"/><circle cx="113.73" cy="116.34" r="3.3" fill="#d62728" fill-opacity="0.5" stroke="#d62728" stroke-opacity="0.5" stroke-width="1"/><circle cx="117.02" cy="114.40" r="3.3" fill="#d62728" fill-opacity="0.5" stroke="#d62728" stroke-opacity="0.5" stroke-width="1"/><circle cx="120.32" cy="116.50" r="3.3" fill="#d62728" fill-opacity="0.5" stroke="#d62728" stroke-opacity="0.5" stroke-width="1"/><circle cx="123.61" cy="118.40" r="3.3" fill="#d62728" fill-opacity="0.5" stroke="#d62728" stroke-opacity="0.5" stroke-width="1"/><circle cx="126.91" cy="118.54" r="3.3" fill="#d62728" fill-opacity="0.5" stroke="#d62728" stroke-opacity="0.5" stroke-width="1"/><circle cx="130.20" cy="119.65" r="3.3" fill="#d62728" fill-opacity="0.5" stroke="#d62728" stroke-opacity="0.5" stroke-width="1"/><circle cx="133.50" cy="121.83" r="3.3" fill="#d62728" fill-opacity="0.5" stroke="#d62728" stroke-opacity="0.5" stroke-width="1"/><circle cx="136.79" cy="117.50" r="3.3" fill="#d62728" fill-opacity="0.5" stroke="#d62728" stroke-opacity="0.5" stroke-width="1"/><circle cx="140.09" cy="117.07" r="3.3" fill="#d62728" fill-opacity="0.5" stroke="#d62728" stroke-opacity="0.5" stroke-width="1"/><circle cx="143.38" cy="117.60" r="3.3" fill="#d62728" fill-opacity="0.5" stroke="#d62728" stroke-opacity="0.5" stroke-width="1"/><circle cx="146.68" cy="117.51" r="3.3" fill="#d62728" fill-opacity="0.5" stroke="#d62728" stroke-opacity="0.5" stroke-width="1"/><circle cx="149.97" cy="117.02" r="3.3" fill="#d62728" fill-opacity="0.5" stroke="#d62728" stroke-opacity="0.5" stroke-width="1"/><circle cx="153.27" cy="118.88" r="3.3" fill="#d62728" fill-opacity="0.5" stroke="#d62728" stroke-opacity="0.5" stroke-width="1"/><circle cx="156.56" cy="117.90" r="3.3" fill="#d62728" fill-opacity="0.5" stroke="#d62728" stroke-opacity="0.5" stroke-width="1"/><circle cx="159.86" cy="118.97" r="3.3" fill="#d62728" fill-opacity="0.5" stroke="#d62728" stroke-opacity="0.5" stroke-width="1"/><circle cx="163.15" cy="118.84" r="3.3" fill="#d62728" fill-opacity="0.5" stroke="#d62728" stroke-opacity="0.5" stroke-width="1"/><circle cx="166.45" cy="115.84" r="3.3" fill="#d62728" fill-opacity="0.5" stroke="#d62728" stroke-opacity="0.5" stroke-width="1"/><circle cx="169.74" cy="116.41" r="3.3" fill="#d62728" fill-opacity="0.5" stroke="#d62728" stroke-opacity="0.5" stroke-width="1"/><circle cx="173.04" cy="113.81" r="3.3" fill="#d62728" fill-opacity="0.5" stroke="#d62728" stroke-opacity="0.5" stroke-width="1"/><circle cx="176.33" cy="110.87" r="3.3" fill="#d62728" fill-opacity="0.5" stroke="#d62728" stroke-opacity="0.5" stroke-width="1"/><circle cx="179.63" cy="110.00" r="3.3" fill="#d62728" fill-opacity="0.5" stroke="#d62728" stroke-opacity="0.5" stroke-width="1"/><circle cx="182.92" cy="108.53" r="3.3" fill="#d62728" fill-opacity="0.5" stroke="#d62728" stroke-opacity="0.5" stroke-width="1"/><circle cx="186.22" cy="105.26" r="3.3" fill="#d62728" fill-opacity="0.5" stroke="#d62728" stroke-opacity="0.5" stroke-width="1"/><circle cx="189.51" cy="101.43" r="3.3" fill="#d62728" fill-opacity="0.5" stroke="#d62728" stroke-opacity="0.5" stroke-width="1"/><circle cx="192.81" cy="99.26" r="3.3" fill="#d62728" fill-opacity="0.5" stroke="#d62728" stroke-opacity="0.5" stroke-width="1"/><circle cx="196.10" cy="96.97" r="3.3" fill="#d62728" fill-opacity="0.5" stroke="#d62728" stroke-opacity="0.5" stroke-width="1"/><circle cx="199.40" cy="93.00" r="3.3" fill="#d62728" fill-opacity="0.5" stroke="#d62728" stroke-opacity="0.5" stroke-width="1"/><circle cx="202.69" cy="92.52" r="3.3" fill="#d62728" fill-opacity="0.5" stroke="#d62728" stroke-opacity="0.5" stroke-width="1"/><circle cx="205.99" cy="91.93" r="3.3" fill="#d62728" fill-opacity="0.5" stroke="#d62728" stroke-opacity="0.5" stroke-width="1"/><circle cx="209.28" cy="95.13" r="3.3" fill="#d62728" fill-opacity="0.5" stroke="#d62728" stroke-opacity="0.5" stroke-width="1"/><circle cx="212.58" cy="98.73" r="3.3" fill="#d62728" fill-opacity="0.5" stroke="#d62728" stroke-opacity="0.5" stroke-width="1"/><circle cx="215.87" cy="105.79" r="3.3" fill="#d62728" fill-opacity="0.5" stroke="#d62728" stroke-opacity="0.5" stroke-width="1"/><circle cx="219.17" cy="116.00" r="3.3" fill="#d62728" fill-opacity="0.5" stroke="#d62728" stroke-opacity="0.5" stroke-width="1"/><circle cx="222.46" cy="123.18" r="3.3" fill="#d62728" fill-opacity="0.5" stroke="#d62728" stroke-opacity="0.5" stroke-width="1"/><circle cx="225.76" cy="130.19" r="3.3" fill="#d62728" fill-opacity="0.5" stroke="#d62728" stroke-opacity="0.5" stroke-width="1"/><circle cx="229.05" cy="129.78" r="3.3" fill="#d62728" fill-opacity="0.5" stroke="#d62728" stroke-opacity="0.5" stroke-width="1"/><circle cx="232.35" cy="127.39" r="3.3" fill="#d62728" fill-opacity="0.5" stroke="#d62728" stroke-opacity="0.5" stroke-width="1"/><circle cx="235.64" cy="124.22" r="3.3" fill="#d62728" fill-opacity="0.5" stroke="#d62728" stroke-opacity="0.5" stroke-width="1"/><circle cx="238.93" cy="123.26" r="3.3" fill="#d62728" fill-opacity="0.5" stroke="#d62728" stroke-opacity="0.5" stroke-width="1"/><circle cx="242.23" cy="122.44" r="3.3" fill="#d62728" fill-opacity="0.5" stroke="#d62728" stroke-opacity="0.5" stroke-width="1"/><circle cx="245.52" cy="119.05" r="3.3" fill="#d62728" fill-opacity="0.5" stroke="#d62728" stroke-opacity="0.5" stroke-width="1"/><circle cx="248.82" cy="119.91" r="3.3" fill="#d62728" fill-opacity="0.5" stroke="#d62728" stroke-opacity="0.5" stroke-width="1"/><circle cx="252.11" cy="119.27" r="3.3" fill="#d62728" fill-opacity="0.5" stroke="#d62728" stroke-opacity="0.5" stroke-width="1"/><circle cx="255.41" cy="118.38" r="3.3" fill="#d62728" fill-opacity="0.5" stroke="#d62728" stroke-opacity="0.5" stroke-width="1"/><circle cx="258.70" cy="118.69" r="3.3" fill="#d62728" fill-opacity="0.5" stroke="#d62728" stroke-opacity="0.5" stroke-width="1"/><circle cx="262.00" cy="118.76" r="3.3" fill="#d62728" fill-opacity="0.5" stroke="#d62728" stroke-opacity="0.5" stroke-width="1"/><circle cx="265.29" cy="117.49" r="3.3" fill="#d62728" fill-opacity="0.5" stroke="#d62728" stroke-opacity="0.5" stroke-width="1"/><circle cx="268.59" cy="116.05" r="3.3" fill="#d62728" fill-opacity="0.5" stroke="#d62728" stroke-opacity="0.5" stroke-width="1"/><circle cx="271.88" cy="117.11" r="3.3" fill="#d62728" fill-opacity="0.5" stroke="#d62728" stroke-opacity="0.5" stroke-width="1"/><circle cx="275.18" cy="117.71" r="3.3" fill="#d62728" fill-opacity="0.5" stroke="#d62728" stroke-opacity="0.5" stroke-width="1"/><circle cx="278.47" cy="115.55" r="3.3" fill="#d62728" fill-opacity="0.5" stroke="#d62728" stroke-opacity="0.5" stroke-width="1"/><circle cx="281.77" cy="112.55" r="3.3" fill="#d62728" fill-opacity="0.5" stroke="#d62728" stroke-opacity="0.5" stroke-width="1"/><circle cx="285.06" cy="111.28" r="3.3" fill="#d62728" fill-opacity="0.5" stroke="#d62728" stroke-opacity="0.5" stroke-width="1"/><circle cx="288.36" cy="114.57" r="3.3" fill="#d62728" fill-opacity="0.5" stroke="#d62728" stroke-opacity="0.5" stroke-width="1"/><circle cx="291.65" cy="111.88" r="3.3" fill="#d62728" fill-opacity="0.5" stroke="#d62728" stroke-opacity="0.5" stroke-width="1"/><circle cx="294.95" cy="110.52" r="3.3" fill="#d62728" fill-opacity="0.5" stroke="#d62728" stroke-opacity="0.5" stroke-width="1"/><circle cx="298.24" cy="110.35" r="3.3" fill="#d62728" fill-opacity="0.5" stroke="#d62728" stroke-opacity="0.5" stroke-width="1"/><circle cx="301.54" cy="107.44" r="3.3" fill="#d62728" fill-opacity="0.5" stroke="#d62728" stroke-opacity="0.5" stroke-width="1"/><circle cx="304.83" cy="106.57" r="3.3" fill="#d62728" fill-opacity="0.5" stroke="#d62728" stroke-opacity="0.5" stroke-width="1"/><circle cx="308.13" cy="103.00" r="3.3" fill="#d62728" fill-opacity="0.5" stroke="#d62728" stroke-opacity="0.5" stroke-width="1"/><circle cx="311.42" cy="99.27" r="3.3" fill="#d62728" fill-opacity="0.5" stroke="#d62728" stroke-opacity="0.5" stroke-width="1"/><circle cx="314.72" cy="99.03" r="3.3" fill="#d62728" fill-opacity="0.5" stroke="#d62728" stroke-opacity="0.5" stroke-width="1"/><circle cx="318.01" cy="102.21" r="3.3" fill="#d62728" fill-opacity="0.5" stroke="#d62728" stroke-opacity="0.5" stroke-width="1"/><circle cx="321.31" cy="104.74" r="3.3" fill="#d62728" fill-opacity="0.5" stroke="#d62728" stroke-opacity="0.5" stroke-width="1"/><circle cx="324.60" cy="104.69" r="3.3" fill="#d62728" fill-opacity="0.5" stroke="#d62728" stroke-opacity="0.5" stroke-width="1"/><circle cx="327.90" cy="103.72" r="3.3" fill="#d62728" fill-opacity="0.5" stroke="#d62728" stroke-opacity="0.5" stroke-width="1"/><circle cx="331.19" cy="106.18" r="3.3" fill="#d62728" fill-opacity="0.5" stroke="#d62728" stroke-opacity="0.5" stroke-width="1"/><circle cx="334.49" cy="107.61" r="3.3" fill="#d62728" fill-opacity="0.5" stroke="#d62728" stroke-opacity="0.5" stroke-width="1"/><circle cx="337.78" cy="109.75" r="3.3" fill="#d62728" fill-opacity="0.5" stroke="#d62728" stroke-opacity="0.5" stroke-width="1"/><circle cx="341.08" cy="111.52" r="3.3" fill="#d62728" fill-opacity="0.5" stroke="#d62728" stroke-opacity="0.5" stroke-width="1"/><circle cx="344.37" cy="112.12" r="3.3" fill="#d62728" fill-opacity="0.5" stroke="#d62728" stroke-opacity="0.5" stroke-width="1"/><circle cx="347.67" cy="113.94" r="3.3" fill="#d62728" fill-opacity="0.5" stroke="#d62728" stroke-opacity="0.5" stroke-width="1"/><circle cx="350.96" cy="116.07" r="3.3" fill="#d62728" fill-opacity="0.5" stroke="#d62728" stroke-opacity="0.5" stroke-width="1"/><circle cx="354.26" cy="118.29" r="3.3" fill="#d62728" fill-opacity="0.5" stroke="#d62728" stroke-opacity="0.5" stroke-width="1"/><circle cx="357.55" cy="120.01" r="3.3" fill="#d62728" fill-opacity="0.5" stroke="#d62728" stroke-opacity="0.5" stroke-width="1"/><circle cx="360.85" cy="120.98" r="3.3" fill="#d62728" fill-opacity="0.5" stroke="#d62728" stroke-opacity="0.5" stroke-width="1"/><circle cx="364.14" cy="118.33" r="3.3" fill="#d62728" fill-opacity="0.5" stroke="#d62728" stroke-opacity="0.5" stroke-width="1"/><circle cx="367.44" cy="116.33" r="3.3" fill="#d62728" fill-opacity="0.5" stroke="#d62728" stroke-opacity="0.5" stroke-width="1"/><circle cx="370.73" cy="116.13" r="3.3" fill="#d62728" fill-opacity="0.5" stroke="#d62728" stroke-opacity="0.5" stroke-width="1"/><circle cx="374.03" cy="118.23" r="3.3" fill="#d62728" fill-opacity="0.5" stroke="#d62728" stroke-opacity="0.5" stroke-width="1"/><circle cx="377.32" cy="120.95" r="3.3" fill="#d62728" fill-opacity="0.5" stroke="#d62728" stroke-opacity="0.5" stroke-width="1"/><circle cx="380.62" cy="122.60" r="3.3" fill="#d62728" fill-opacity="0.5" stroke="#d62728" stroke-opacity="0.5" stroke-width="1"/><circle cx="383.91" cy="122.54" r="3.3" fill="#d62728" fill-opacity="0.5" stroke="#d62728" stroke-opacity="0.5" stroke-width="1"/><circle cx="387.21" cy="121.04" r="3.3" fill="#d62728" fill-opacity="0.5" stroke="#d62728" stroke-opacity="0.5" stroke-width="1"/><circle cx="390.50" cy="118.33" r="3.3" fill="#d62728" fill-opacity="0.5" stroke="#d62728" stroke-opacity="0.5" stroke-width="1"/><circle cx="393.80" cy="115.46" r="3.3" fill="#d62728" fill-opacity="0.5" stroke="#d62728" stroke-opacity="0.5" stroke-width="1"/><circle cx="397.09" cy="113.47" r="3.3" fill="#d62728" fill-opacity="0.5" stroke="#d62728" stroke-opacity="0.5" stroke-width="1"/><circle cx="400.39" cy="111.75" r="3.3" fill="#d62728" fill-opacity="0.5" stroke="#d62728" stroke-opacity="0.5" stroke-width="1"/></g><g clip-path="url(#c1)" opacity="1"><path d="M74.19,67.74 L77.48,72.09 L80.78,85.43 L84.07,96.58 L87.37,111.86 L90.66,126.68 L93.96,138.06 L97.25,143.96 L100.55,141.79 L103.84,136.67 L107.14,131.32 L110.43,126.77 L113.73,124.04 L117.02,124.05 L120.32,127.19 L123.61,132.17 L126.91,136.10 L130.20,139.22 L133.50,138.33 L136.79,134.28 L140.09,130.75 L143.38,127.76 L146.68,127.17 L149.97,129.18 L153.27,133.51 L156.56,137.52 L159.86,139.01 L163.15,137.40 L166.45,134.12 L169.74,130.24 L173.04,126.61 L176.33,121.47 L179.63,118.59 L182.92,115.36 L186.22,112.19 L189.51,110.36 L192.81,106.41 L196.10,100.78 L199.40,95.67 L202.69,92.32 L205.99,90.76 L209.28,95.34 L212.58,106.78 L215.87,118.32 L219.17,130.59 L222.46,140.82 L225.76,148.39 L229.05,149.97 L232.35,150.47 L235.64,148.10 L238.93,143.98 L242.23,139.71 L245.52,135.54 L248.82,131.46 L252.11,130.84 L255.41,130.11 L258.70,126.32 L262.00,125.87 L265.29,128.55 L268.59,131.20 L271.88,133.08 L275.18,134.28 L278.47,132.93 L281.77,133.54 L285.06,134.79 L288.36,131.18 L291.65,126.41 L294.95,122.53 L298.24,119.41 L301.54,116.36 L304.83,111.02 L308.13,107.55 L311.42,102.95 L314.72,101.41 L318.01,99.98 L321.31,98.31 L324.60,98.22 L327.90,98.88 L331.19,99.76 L334.49,101.97 L337.78,105.21 L341.08,112.13 L344.37,118.29 L347.67,123.38 L350.96,127.64 L354.26,132.67 L357.55,136.30 L360.85,139.83 L364.14,137.14 L367.44,134.57 L370.73,134.65 L374.03,135.77 L377.32,137.77 L380.62,140.33 L383.91,142.20 L387.21,142.29 L390.50,139.44 L393.80,135.23 L397.09,129.22 L400.39,121.71" fill="none" stroke="#2ca02c" stroke-opacity="1.0" stroke-width="1.6" stroke-linejoin="round" stroke-linecap="butt"/><circle cx="74.19" cy="67.74" r="3.3" fill="#2ca02c" fill-opacity="1.0" stroke="#2ca02c" stroke-opacity="1.0" stroke-width="1"/><circle cx="77.48" cy="72.09" r="3.3" fill="#2ca02c" fill-opacity="1.0" stroke="#2ca02c" stroke-opacity="1.0" stroke-width="1"/><circle cx="80.78" cy="85.43" r="3.3" fill="#2ca02c" fill-opacity="1.0" stroke="#2ca02c" stroke-opacity="1.0" stroke-width="1"/><circle cx="84.07" cy="96.58" r="3.3" fill="#2ca02c" fill-opacity="1.0" stroke="#2ca02c" stroke-opacity="1.0" stroke-width="1"/><circle cx="87.37" cy="111.86" r="3.3" fill="#2ca02c" fill-opacity="1.0" stroke="#2ca02c" stroke-opacity="1.0" stroke-width="1"/><circle cx="90.66" cy="126.68" r="3.3" fill="#2ca02c" fill-opacity="1.0" stroke="#2ca02c" stroke-opacity="1.0" stroke-width="1"/><circle cx="93.96" cy="138.06" r="3.3" fill="#2ca02c" fill-opacity="1.0" stroke="#2ca02c" stroke-opacity="1.0" stroke-width="1"/><circle cx="97.25" cy="143.96" r="3.3" fill="#2ca02c" fill-opacity="1.0" stroke="#2ca02c" stroke-opacity="1.0" stroke-width="1"/><circle cx="100.55" cy="141.79" r="3.3" fill="#2ca02c" fill-opacity="1.0" stroke="#2ca02c" stroke-opacity="1.0" stroke-width="1"/><circle cx="103.84" cy="136.67" r="3.3" fill="#2ca02c" fill-opacity="1.0" stroke="#2ca02c" stroke-opacity="1.0" stroke-width="1"/><circle cx="107.14" cy="131.32" r="3.3" fill="#2ca02c" fill-opacity="1.0" stroke="#2ca02c" stroke-opacity="1.0" stroke-width="1"/><circle cx="110.43" cy="126.77" r="3.3" fill="#2ca02c" fill-opacity="1.0" stroke="#2ca02c" stroke-opacity="1.0" stroke-width="1"/><circle cx="113.73" cy="124.04" r="3.3" fill="#2ca02c" fill-opacity="1.0" stroke="#2ca02c" stroke-opacity="1.0" stroke-width="1"/><circle cx="117.02" cy="124.05" r="3.3" fill="#2ca02c" fill-opacity="1.0" stroke="#2ca02c" stroke-opacity="1.0" stroke-width="1"/><circle cx="120.32" cy="127.19" r="3.3" fill="#2ca02c" fill-opacity="1.0" stroke="#2ca02c" stroke-opacity="1.0" stroke-width="1"/><circle cx="123.61" cy="132.17" r="3.3" fill="#2ca02c" fill-opacity="1.0" stroke="#2ca02c" stroke-opacity="1.0" stroke-width="1"/><circle cx="126.91" cy="136.10" r="3.3" fill="#2ca02c" fill-opacity="1.0" stroke="#2ca02c" stroke-opacity="1.0" stroke-width="1"/><circle cx="130.20" cy="139.22" r="3.3" fill="#2ca02c" fill-opacity="1.0" stroke="#2ca02c" stroke-opacity="1.0" stroke-width="1"/><circle cx="133.50" cy="138.33" r="3.3" fill="#2ca02c" fill-opacity="1.0" stroke="#2ca02c" stroke-opacity="1.0" stroke-width="1"/><circle cx="136.79" cy="134.28" r="3.3" fill="#2ca02c" fill-opacity="1.0" stroke="#2ca02c" stroke-opacity="1.0" stroke-width="1"/><circle cx="140.09" cy="130.75" r="3.3" fill="#2ca02c" fill-opacity="1.0" stroke="#2ca02c" stroke-opacity="1.0" stroke-width="1"/><circle cx="143.38" cy="127.76" r="3.3" fill="#2ca02c" fill-opacity="1.0" stroke="#2ca02c" stroke-opacity="1.0" stroke-width="1"/><circle cx="146.68" cy="127.17" r="3.3" fill="#2ca02c" fill-opacity="1.0" stroke="#2ca02c" stroke-opacity="1.0" stroke-width="1"/><circle cx="149.97" cy="129.18" r="3.3" fill="#2ca02c" fill-opacity="1.0" stroke="#2ca02c" stroke-opacity="1.0" stroke-width="1"/><circle cx="153.27" cy="133.51" r="3.3" fill="#2ca02c" fill-opacity="1.0" stroke="#2ca02c" stroke-opacity="1.0" stroke-width="1"/><circle cx="156.56" cy="137.52" r="3.3" fill="#2ca02c" fill-opacity="1.0" stroke="#2ca02c" stroke-opacity="1.0" stroke-width="1"/><circle cx="159.86" cy="139.01" r="3.3" fill="#2ca02c" fill-opacity="1.0" stroke="#2ca02c" stroke-opacity="1.0" stroke-width="1"/><circle cx="163.15" cy="137.40" r="3.3" fill="#2ca02c" fill-opacity="1.0" stroke="#2ca02c" stroke-opacity="1.0" stroke-width="1"/><circle cx="166.45" cy="134.12" r="3.3" fill="#2ca02c" fill-opacity="1.0" stroke="#2ca02c" stroke-opacity="1.0" stroke-width="1"/><circle cx="169.74" cy="130.24" r="3.3" fill="#2ca02c" fill-opacity="1.0" stroke="#2ca02c" stroke-opacity="1.0" stroke-width="1"/><circle cx="173.04" cy="126.61" r="3.3" fill="#2ca02c" fill-opacity="1.0" stroke="#2ca02c" stroke-opacity="1.0" stroke-width="1"/><circle cx="176.33" cy="121.47" r="3.3" fill="#2ca02c" fill-opacity="1.0" stroke="#2ca02c" stroke-opacity="1.0" stroke-width="1"/><circle cx="179.63" cy="118.59" r="3.3" fill="#2ca02c" fill-opacity="1.0" stroke="#2ca02c" stroke-opacity="1.0" stroke-width="1"/><circle cx="182.92" cy="115.36" r="3.3" fill="#2ca02c" fill-opacity="1.0" stroke="#2ca02c" stroke-opacity="1.0" stroke-width="1"/><circle cx="186.22" cy="112.19" r="3.3" fill="#2ca02c" fill-opacity="1.0" stroke="#2ca02c" stroke-opacity="1.0" stroke-width="1"/><circle cx="189.51" cy="110.36" r="3.3" fill="#2ca02c" fill-opacity="1.0" stroke="#2ca02c" stroke-opacity="1.0" stroke-width="1"/><circle cx="192.81" cy="106.41" r="3.3" fill="#2ca02c" fill-opacity="1.0" stroke="#2ca02c" stroke-opacity="1.0" stroke-width="1"/><circle cx="196.10" cy="100.78" r="3.3" fill="#2ca02c" fill-opacity="1.0" stroke="#2ca02c" stroke-opacity="1.0" stroke-width="1"/><circle cx="199.40" cy="95.67" r="3.3" fill="#2ca02c" fill-opacity="1.0" stroke="#2ca02c" stroke-opacity="1.0" stroke-width="1"/><circle cx="202.69" cy="92.32" r="3.3" fill="#2ca02c" fill-opacity="1.0" stroke="#2ca02c" stroke-opacity="1.0" stroke-width="1"/><circle cx="205.99" cy="90.76" r="3.3" fill="#2ca02c" fill-opacity="1.0" stroke="#2ca02c" stroke-opacity="1.0" stroke-width="1"/><circle cx="209.28" cy="95.34" r="3.3" fill="#2ca02c" fill-opacity="1.0" stroke="#2ca02c" stroke-opacity="1.0" stroke-width="1"/><circle cx="212.58" cy="106.78" r="3.3" fill="#2ca02c" fill-opacity="1.0" stroke="#2ca02c" stroke-opacity="1.0" stroke-width="1"/><circle cx="215.87" cy="118.32" r="3.3" fill="#2ca02c" fill-opacity="1.0" stroke="#2ca02c" stroke-opacity="1.0" stroke-width="1"/><circle cx="219.17" cy="130.59" r="3.3" fill="#2ca02c" fill-opacity="1.0" stroke="#2ca02c" stroke-opacity="1.0" stroke-width="1"/><circle cx="222.46" cy="140.82" r="3.3" fill="#2ca02c" fill-opacity="1.0" stroke="#2ca02c" stroke-opacity="1.0" stroke-width="1"/><circle cx="225.76" cy="148.39" r="3.3" fill="#2ca02c" fill-opacity="1.0" stroke="#2ca02c" stroke-opacity="1.0" stroke-width="1"/><circle cx="229.05" cy="149.97" r="3.3" fill="#2ca02c" fill-opacity="1.0" stroke="#2ca02c" stroke-opacity="1.0" stroke-width="1"/><circle cx="232.35" cy="150.47" r="3.3" fill="#2ca02c" fill-opacity="1.0" stroke="#2ca02c" stroke-opacity="1.0" stroke-width="1"/><circle cx="235.64" cy="148.10" r="3.3" fill="#2ca02c" fill-opacity="1.0" stroke="#2ca02c" stroke-opacity="1.0" stroke-width="1"/><circle cx="238.93" cy="143.98" r="3.3" fill="#2ca02c" fill-opacity="1.0" stroke="#2ca02c" stroke-opacity="1.0" stroke-width="1"/><circle cx="242.23" cy="139.71" r="3.3" fill="#2ca02c" fill-opacity="1.0" stroke="#2ca02c" stroke-opacity="1.0" stroke-width="1"/><circle cx="245.52" cy="135.54" r="3.3" fill="#2ca02c" fill-opacity="1.0" stroke="#2ca02c" stroke-opacity="1.0" stroke-width="1"/><circle cx="248.82" cy="131.46" r="3.3" fill="#2ca02c" fill-opacity="1.0" stroke="#2ca02c" stroke-opacity="1.0" stroke-width="1"/><circle cx="252.11" cy="130.84" r="3.3" fill="#2ca02c" fill-opacity="1.0" stroke="#2ca02c" stroke-opacity="1.0" stroke-width="1"/><circle cx="255.41" cy="130.11" r="3.3" fill="#2ca02c" fill-opacity="1.0" stroke="#2ca02c" stroke-opacity="1.0" stroke-width="1"/><circle cx="258.70" cy="126.32" r="3.3" fill="#2ca02c" fill-opacity="1.0" stroke="#2ca02c" stroke-opacity="1.0" stroke-width="1"/><circle cx="262.00" cy="125.87" r="3.3" fill="#2ca02c" fill-opacity="1.0" stroke="#2ca02c" stroke-opacity="1.0" stroke-width="1"/><circle cx="265.29" cy="128.55" r="3.3" fill="#2ca02c" fill-opacity="1.0" stroke="#2ca02c" stroke-opacity="1.0" stroke-width="1"/><circle cx="268.59" cy="131.20" r="3.3" fill="#2ca02c" fill-opacity="1.0" stroke="#2ca02c" stroke-opacity="1.0" stroke-width="1"/><circle cx="271.88" cy="133.08" r="3.3" fill="#2ca02c" fill-opacity="1.0" stroke="#2ca02c" stroke-opacity="1.0" stroke-width="1"/><circle cx="275.18" cy="134.28" r="3.3" fill="#2ca02c" fill-opacity="1.0" stroke="#2ca02c" stroke-opacity="1.0" stroke-width="1"/><circle cx="278.47" cy="132.93" r="3.3" fill="#2ca02c" fill-opacity="1.0" stroke="#2ca02c" stroke-opacity="1.0" stroke-width="1"/><circle cx="281.77" cy="133.54" r="3.3" fill="#2ca02c" fill-opacity="1.0" stroke="#2ca02c" stroke-opacity="1.0" stroke-width="1"/><circle cx="285.06" cy="134.79" r="3.3" fill="#2ca02c" fill-opacity="1.0" stroke="#2ca02c" stroke-opacity="1.0" stroke-width="1"/><circle cx="288.36" cy="131.18" r="3.3" fill="#2ca02c" fill-opacity="1.0" stroke="#2ca02c" stroke-opacity="1.0" stroke-width="1"/><circle cx="291.65" cy="126.41" r="3.3" fill="#2ca02c" fill-opacity="1.0" stroke="#2ca02c" stroke-opacity="1.0" stroke-width="1"/><circle cx="294.95" cy="122.53" r="3.3" fill="#2ca02c" fill-opacity="1.0" stroke="#2ca02c" stroke-opacity="1.0" stroke-width="1"/><circle cx="298.24" cy="119.41" r="3.3" fill="#2ca02c" fill-opacity="1.0" stroke="#2ca02c" stroke-opacity="1.0" stroke-width="1"/><circle cx="301.54" cy="116.36" r="3.3" fill="#2ca02c" fill-opacity="1.0" stroke="#2ca02c" stroke-opacity="1.0" stroke-width="1"/><circle cx="304.83" cy="111.02" r="3.3" fill="#2ca02c" fill-opacity="1.0" stroke="#2ca02c" stroke-opacity="1.0" stroke-width="1"/><circle cx="308.13" cy="107.55" r="3.3" fill="#2ca02c" fill-opacity="1.0" stroke="#2ca02c" stroke-opacity="1.0" stroke-width="1"/><circle cx="311.42" cy="102.95" r="3.3" fill="#2ca02c" fill-opacity="1.0" stroke="#2ca02c" stroke-opacity="1.0" stroke-width="1"/><circle cx="314.72" cy="101.41" r="3.3" fill="#2ca02c" fill-opacity="1.0" stroke="#2ca02c" stroke-opacity="1.0" stroke-width="1"/><circle cx="318.01" cy="99.98" r="3.3" fill="#2ca02c" fill-opacity="1.0" stroke="#2ca02c" stroke-opacity="1.0" stroke-width="1"/><circle cx="321.31" cy="98.31" r="3.3" fill="#2ca02c" fill-opacity="1.0" stroke="#2ca02c" stroke-opacity="1.0" stroke-width="1"/><circle cx="324.60" cy="98.22" r="3.3" fill="#2ca02c" fill-opacity="1.0" stroke="#2ca02c" stroke-opacity="1.0" stroke-width="1"/><circle cx="327.90" cy="98.88" r="3.3" fill="#2ca02c" fill-opacity="1.0" stroke="#2ca02c" stroke-opacity="1.0" stroke-width="1"/><circle cx="331.19" cy="99.76" r="3.3" fill="#2ca02c" fill-opacity="1.0" stroke="#2ca02c" stroke-opacity="1.0" stroke-width="1"/><circle cx="334.49" cy="101.97" r="3.3" fill="#2ca02c" fill-opacity="1.0" stroke="#2ca02c" stroke-opacity="1.0" stroke-width="1"/><circle cx="337.78" cy="105.21" r="3.3" fill="#2ca02c" fill-opacity="1.0" stroke="#2ca02c" stroke-opacity="1.0" stroke-width="1"/><circle cx="341.08" cy="112.13" r="3.3" fill="#2ca02c" fill-opacity="1.0" stroke="#2ca02c" stroke-opacity="1.0" stroke-width="1"/><circle cx="344.37" cy="118.29" r="3.3" fill="#2ca02c" fill-opacity="1.0" stroke="#2ca02c" stroke-opacity="1.0" stroke-width="1"/><circle cx="347.67" cy="123.38" r="3.3" fill="#2ca02c" fill-opacity="1.0" stroke="#2ca02c" stroke-opacity="1.0" stroke-width="1"/><circle cx="350.96" cy="127.64" r="3.3" fill="#2ca02c" fill-opacity="1.0" stroke="#2ca02c" stroke-opacity="1.0" stroke-width="1"/><circle cx="354.26" cy="132.67" r="3.3" fill="#2ca02c" fill-opacity="1.0" stroke="#2ca02c" stroke-opacity="1.0" stroke-width="1"/><circle cx="357.55" cy="136.30" r="3.3" fill="#2ca02c" fill-opacity="1.0" stroke="#2ca02c" stroke-opacity="1.0" stroke-width="1"/><circle cx="360.85" cy="139.83" r="3.3" fill="#2ca02c" fill-opacity="1.0" stroke="#2ca02c" stroke-opacity="1.0" stroke-width="1"/><circle cx="364.14" cy="137.14" r="3.3" fill="#2ca02c" fill-opacity="1.0" stroke="#2ca02c" stroke-opacity="1.0" stroke-width="1"/><circle cx="367.44" cy="134.57" r="3.3" fill="#2ca02c" fill-opacity="1.0" stroke="#2ca02c" stroke-opacity="1.0" stroke-width="1"/><circle cx="370.73" cy="134.65" r="3.3" fill="#2ca02c" fill-opacity="1.0" stroke="#2ca02c" stroke-opacity="1.0" stroke-width="1"/><circle cx="374.03" cy="135.77" r="3.3" fill="#2ca02c" fill-opacity="1.0" stroke="#2ca02c" stroke-opacity="1.0" stroke-width="1"/><circle cx="377.32" cy="137.77" r="3.3" fill="#2ca02c" fill-opacity="1.0" stroke="#2ca02c" stroke-opacity="1.0" stroke-width="1"/><circle cx="380.62" cy="140.33" r="3.3" fill="#2ca02c" fill-opacity="1.0" stroke="#2ca02c" stroke-opacity="1.0" stroke-width="1"/><circle cx="383.91" cy="142.20" r="3.3" fill="#2ca02c" fill-opacity="1.0" stroke="#2ca02c" stroke-opacity="1.0" stroke-width="1"/><circle cx="387.21" cy="142.29" r="3.3" fill="#2ca02c" fill-opacity="1.0" stroke="#2ca02c" stroke-opacity="1.0" stroke-width="1"/><circle cx="390.50" cy="139.44" r="3.3" fill="#2ca02c" fill-opacity="1.0" stroke="#2ca02c" stroke-opacity="1.0" stroke-width="1"/><circle cx="393.80" cy="135.23" r="3.3" fill="#2ca02c" fill-opacity="1.0" stroke="#2ca02c" stroke-opacity="1.0" stroke-width="1"/><circle cx="397.09" cy="129.22" r="3.3" fill="#2ca02c" fill-opacity="1.0" stroke="#2ca02c" stroke-opacity="1.0" stroke-width="1"/><circle cx="400.39" cy="121.71" r="3.3" fill="#2ca02c" fill-opacity="1.0" stroke="#2ca02c" stroke-opacity="1.0" stroke-width="1"/></g><g clip-path="url(#c2)" opacity="1"><path d="M74.19,301.14 L77.48,284.60 L80.78,271.65 L84.07,225.96 L87.37,222.01 L90.66,236.40 L93.96,253.66 L97.25,272.37 L100.55,286.39 L103.84,293.95 L107.14,297.54 L110.43,285.31 L113.73,282.08 L117.02,277.76 L120.32,282.80 L123.61,293.23 L126.91,301.86 L130.20,292.51 L133.50,289.63 L136.79,291.43 L140.09,300.06 L143.38,290.71 L146.68,276.68 L149.97,275.96 L153.27,281.00 L156.56,291.43 L159.86,297.54 L163.15,290.71 L166.45,276.68 L169.74,287.11 L173.04,292.51 L176.33,300.06 L179.63,295.03 L182.92,285.31 L186.22,282.80 L189.51,285.31 L192.81,292.51 L196.10,285.31 L199.40,276.68 L202.69,280.28 L205.99,285.31 L209.28,281.00 L212.58,291.07 L215.87,300.06 L219.17,300.06 L222.46,295.03 L225.76,297.54 L229.05,298.26 L232.35,301.14 L235.64,300.06 L238.93,287.11 L242.23,301.86 L245.52,287.11 L248.82,276.68 L252.11,295.03 L255.41,288.19 L258.70,277.76 L262.00,280.28 L265.29,295.75 L268.59,291.43 L271.88,296.83 L275.18,288.91 L278.47,297.54 L281.77,292.51 L285.06,289.63 L288.36,282.80 L291.65,300.06 L294.95,280.28 L298.24,272.37 L301.54,287.11 L304.83,270.93 L308.13,278.48 L311.42,288.19 L314.72,298.26 L318.01,300.06 L321.31,288.91 L324.60,291.43 L327.90,301.86 L331.19,291.43 L334.49,293.23 L337.78,297.54 L341.08,286.39 L344.37,277.76 L347.67,290.71 L350.96,283.88 L354.26,299.34 L357.55,300.06 L360.85,301.86 L364.14,289.63 L367.44,300.06 L370.73,280.28 L374.03,292.51 L377.32,295.75 L380.62,293.23 L383.91,290.71 L387.21,288.19 L390.50,275.24 L393.80,287.11 L397.09,277.76 L400.39,282.08" fill="none" stroke="#2ca02c" stroke-opacity="1.0" stroke-width="1.6" stroke-linejoin="round" stroke-linecap="butt"/><circle cx="74.19" cy="301.14" r="3.3" fill="#2ca02c" fill-opacity="1.0" stroke="#2ca02c" stroke-opacity="1.0" stroke-width="1"/><circle cx="77.48" cy="284.60" r="3.3" fill="#2ca02c" fill-opacity="1.0" stroke="#2ca02c" stroke-opacity="1.0" stroke-width="1"/><circle cx="80.78" cy="271.65" r="3.3" fill="#2ca02c" fill-opacity="1.0" stroke="#2ca02c" stroke-opacity="1.0" stroke-width="1"/><circle cx="84.07" cy="225.96" r="3.3" fill="#2ca02c" fill-opacity="1.0" stroke="#2ca02c" stroke-opacity="1.0" stroke-width="1"/><circle cx="87.37" cy="222.01" r="3.3" fill="#2ca02c" fill-opacity="1.0" stroke="#2ca02c" stroke-opacity="1.0" stroke-width="1"/><circle cx="90.66" cy="236.40" r="3.3" fill="#2ca02c" fill-opacity="1.0" stroke="#2ca02c" stroke-opacity="1.0" stroke-width="1"/><circle cx="93.96" cy="253.66" r="3.3" fill="#2ca02c" fill-opacity="1.0" stroke="#2ca02c" stroke-opacity="1.0" stroke-width="1"/><circle cx="97.25" cy="272.37" r="3.3" fill="#2ca02c" fill-opacity="1.0" stroke="#2ca02c" stroke-opacity="1.0" stroke-width="1"/><circle cx="100.55" cy="286.39" r="3.3" fill="#2ca02c" fill-opacity="1.0" stroke="#2ca02c" stroke-opacity="1.0" stroke-width="1"/><circle cx="103.84" cy="293.95" r="3.3" fill="#2ca02c" fill-opacity="1.0" stroke="#2ca02c" stroke-opacity="1.0" stroke-width="1"/><circle cx="107.14" cy="297.54" r="3.3" fill="#2ca02c" fill-opacity="1.0" stroke="#2ca02c" stroke-opacity="1.0" stroke-width="1"/><circle cx="110.43" cy="285.31" r="3.3" fill="#2ca02c" fill-opacity="1.0" stroke="#2ca02c" stroke-opacity="1.0" stroke-width="1"/><circle cx="113.73" cy="282.08" r="3.3" fill="#2ca02c" fill-opacity="1.0" stroke="#2ca02c" stroke-opacity="1.0" stroke-width="1"/><circle cx="117.02" cy="277.76" r="3.3" fill="#2ca02c" fill-opacity="1.0" stroke="#2ca02c" stroke-opacity="1.0" stroke-width="1"/><circle cx="120.32" cy="282.80" r="3.3" fill="#2ca02c" fill-opacity="1.0" stroke="#2ca02c" stroke-opacity="1.0" stroke-width="1"/><circle cx="123.61" cy="293.23" r="3.3" fill="#2ca02c" fill-opacity="1.0" stroke="#2ca02c" stroke-opacity="1.0" stroke-width="1"/><circle cx="126.91" cy="301.86" r="3.3" fill="#2ca02c" fill-opacity="1.0" stroke="#2ca02c" stroke-opacity="1.0" stroke-width="1"/><circle cx="130.20" cy="292.51" r="3.3" fill="#2ca02c" fill-opacity="1.0" stroke="#2ca02c" stroke-opacity="1.0" stroke-width="1"/><circle cx="133.50" cy="289.63" r="3.3" fill="#2ca02c" fill-opacity="1.0" stroke="#2ca02c" stroke-opacity="1.0" stroke-width="1"/><circle cx="136.79" cy="291.43" r="3.3" fill="#2ca02c" fill-opacity="1.0" stroke="#2ca02c" stroke-opacity="1.0" stroke-width="1"/><circle cx="140.09" cy="300.06" r="3.3" fill="#2ca02c" fill-opacity="1.0" stroke="#2ca02c" stroke-opacity="1.0" stroke-width="1"/><circle cx="143.38" cy="290.71" r="3.3" fill="#2ca02c" fill-opacity="1.0" stroke="#2ca02c" stroke-opacity="1.0" stroke-width="1"/><circle cx="146.68" cy="276.68" r="3.3" fill="#2ca02c" fill-opacity="1.0" stroke="#2ca02c" stroke-opacity="1.0" stroke-width="1"/><circle cx="149.97" cy="275.96" r="3.3" fill="#2ca02c" fill-opacity="1.0" stroke="#2ca02c" stroke-opacity="1.0" stroke-width="1"/><circle cx="153.27" cy="281.00" r="3.3" fill="#2ca02c" fill-opacity="1.0" stroke="#2ca02c" stroke-opacity="1.0" stroke-width="1"/><circle cx="156.56" cy="291.43" r="3.3" fill="#2ca02c" fill-opacity="1.0" stroke="#2ca02c" stroke-opacity="1.0" stroke-width="1"/><circle cx="159.86" cy="297.54" r="3.3" fill="#2ca02c" fill-opacity="1.0" stroke="#2ca02c" stroke-opacity="1.0" stroke-width="1"/><circle cx="163.15" cy="290.71" r="3.3" fill="#2ca02c" fill-opacity="1.0" stroke="#2ca02c" stroke-opacity="1.0" stroke-width="1"/><circle cx="166.45" cy="276.68" r="3.3" fill="#2ca02c" fill-opacity="1.0" stroke="#2ca02c" stroke-opacity="1.0" stroke-width="1"/><circle cx="169.74" cy="287.11" r="3.3" fill="#2ca02c" fill-opacity="1.0" stroke="#2ca02c" stroke-opacity="1.0" stroke-width="1"/><circle cx="173.04" cy="292.51" r="3.3" fill="#2ca02c" fill-opacity="1.0" stroke="#2ca02c" stroke-opacity="1.0" stroke-width="1"/><circle cx="176.33" cy="300.06" r="3.3" fill="#2ca02c" fill-opacity="1.0" stroke="#2ca02c" stroke-opacity="1.0" stroke-width="1"/><circle cx="179.63" cy="295.03" r="3.3" fill="#2ca02c" fill-opacity="1.0" stroke="#2ca02c" stroke-opacity="1.0" stroke-width="1"/><circle cx="182.92" cy="285.31" r="3.3" fill="#2ca02c" fill-opacity="1.0" stroke="#2ca02c" stroke-opacity="1.0" stroke-width="1"/><circle cx="186.22" cy="282.80" r="3.3" fill="#2ca02c" fill-opacity="1.0" stroke="#2ca02c" stroke-opacity="1.0" stroke-width="1"/><circle cx="189.51" cy="285.31" r="3.3" fill="#2ca02c" fill-opacity="1.0" stroke="#2ca02c" stroke-opacity="1.0" stroke-width="1"/><circle cx="192.81" cy="292.51" r="3.3" fill="#2ca02c" fill-opacity="1.0" stroke="#2ca02c" stroke-opacity="1.0" stroke-width="1"/><circle cx="196.10" cy="285.31" r="3.3" fill="#2ca02c" fill-opacity="1.0" stroke="#2ca02c" stroke-opacity="1.0" stroke-width="1"/><circle cx="199.40" cy="276.68" r="3.3" fill="#2ca02c" fill-opacity="1.0" stroke="#2ca02c" stroke-opacity="1.0" stroke-width="1"/><circle cx="202.69" cy="280.28" r="3.3" fill="#2ca02c" fill-opacity="1.0" stroke="#2ca02c" stroke-opacity="1.0" stroke-width="1"/><circle cx="205.99" cy="285.31" r="3.3" fill="#2ca02c" fill-opacity="1.0" stroke="#2ca02c" stroke-opacity="1.0" stroke-width="1"/><circle cx="209.28" cy="281.00" r="3.3" fill="#2ca02c" fill-opacity="1.0" stroke="#2ca02c" stroke-opacity="1.0" stroke-width="1"/><circle cx="212.58" cy="291.07" r="3.3" fill="#2ca02c" fill-opacity="1.0" stroke="#2ca02c" stroke-opacity="1.0" stroke-width="1"/><circle cx="215.87" cy="300.06" r="3.3" fill="#2ca02c" fill-opacity="1.0" stroke="#2ca02c" stroke-opacity="1.0" stroke-width="1"/><circle cx="219.17" cy="300.06" r="3.3" fill="#2ca02c" fill-opacity="1.0" stroke="#2ca02c" stroke-opacity="1.0" stroke-width="1"/><circle cx="222.46" cy="295.03" r="3.3" fill="#2ca02c" fill-opacity="1.0" stroke="#2ca02c" stroke-opacity="1.0" stroke-width="1"/><circle cx="225.76" cy="297.54" r="3.3" fill="#2ca02c" fill-opacity="1.0" stroke="#2ca02c" stroke-opacity="1.0" stroke-width="1"/><circle cx="229.05" cy="298.26" r="3.3" fill="#2ca02c" fill-opacity="1.0" stroke="#2ca02c" stroke-opacity="1.0" stroke-width="1"/><circle cx="232.35" cy="301.14" r="3.3" fill="#2ca02c" fill-opacity="1.0" stroke="#2ca02c" stroke-opacity="1.0" stroke-width="1"/><circle cx="235.64" cy="300.06" r="3.3" fill="#2ca02c" fill-opacity="1.0" stroke="#2ca02c" stroke-opacity="1.0" stroke-width="1"/><circle cx="238.93" cy="287.11" r="3.3" fill="#2ca02c" fill-opacity="1.0" stroke="#2ca02c" stroke-opacity="1.0" stroke-width="1"/><circle cx="242.23" cy="301.86" r="3.3" fill="#2ca02c" fill-opacity="1.0" stroke="#2ca02c" stroke-opacity="1.0" stroke-width="1"/><circle cx="245.52" cy="287.11" r="3.3" fill="#2ca02c" fill-opacity="1.0" stroke="#2ca02c" stroke-opacity="1.0" stroke-width="1"/><circle cx="248.82" cy="276.68" r="3.3" fill="#2ca02c" fill-opacity="1.0" stroke="#2ca02c" stroke-opacity="1.0" stroke-width="1"/><circle cx="252.11" cy="295.03" r="3.3" fill="#2ca02c" fill-opacity="1.0" stroke="#2ca02c" stroke-opacity="1.0" stroke-width="1"/><circle cx="255.41" cy="288.19" r="3.3" fill="#2ca02c" fill-opacity="1.0" stroke="#2ca02c" stroke-opacity="1.0" stroke-width="1"/><circle cx="258.70" cy="277.76" r="3.3" fill="#2ca02c" fill-opacity="1.0" stroke="#2ca02c" stroke-opacity="1.0" stroke-width="1"/><circle cx="262.00" cy="280.28" r="3.3" fill="#2ca02c" fill-opacity="1.0" stroke="#2ca02c" stroke-opacity="1.0" stroke-width="1"/><circle cx="265.29" cy="295.75" r="3.3" fill="#2ca02c" fill-opacity="1.0" stroke="#2ca02c" stroke-opacity="1.0" stroke-width="1"/><circle cx="268.59" cy="291.43" r="3.3" fill="#2ca02c" fill-opacity="1.0" stroke="#2ca02c" stroke-opacity="1.0" stroke-width="1"/><circle cx="271.88" cy="296.83" r="3.3" fill="#2ca02c" fill-opacity="1.0" stroke="#2ca02c" stroke-opacity="1.0" stroke-width="1"/><circle cx="275.18" cy="288.91" r="3.3" fill="#2ca02c" fill-opacity="1.0" stroke="#2ca02c" stroke-opacity="1.0" stroke-width="1"/><circle cx="278.47" cy="297.54" r="3.3" fill="#2ca02c" fill-opacity="1.0" stroke="#2ca02c" stroke-opacity="1.0" stroke-width="1"/><circle cx="281.77" cy="292.51" r="3.3" fill="#2ca02c" fill-opacity="1.0" stroke="#2ca02c" stroke-opacity="1.0" stroke-width="1"/><circle cx="285.06" cy="289.63" r="3.3" fill="#2ca02c" fill-opacity="1.0" stroke="#2ca02c" stroke-opacity="1.0" stroke-width="1"/><circle cx="288.36" cy="282.80" r="3.3" fill="#2ca02c" fill-opacity="1.0" stroke="#2ca02c" stroke-opacity="1.0" stroke-width="1"/><circle cx="291.65" cy="300.06" r="3.3" fill="#2ca02c" fill-opacity="1.0" stroke="#2ca02c" stroke-opacity="1.0" stroke-width="1"/><circle cx="294.95" cy="280.28" r="3.3" fill="#2ca02c" fill-opacity="1.0" stroke="#2ca02c" stroke-opacity="1.0" stroke-width="1"/><circle cx="298.24" cy="272.37" r="3.3" fill="#2ca02c" fill-opacity="1.0" stroke="#2ca02c" stroke-opacity="1.0" stroke-width="1"/><circle cx="301.54" cy="287.11" r="3.3" fill="#2ca02c" fill-opacity="1.0" stroke="#2ca02c" stroke-opacity="1.0" stroke-width="1"/><circle cx="304.83" cy="270.93" r="3.3" fill="#2ca02c" fill-opacity="1.0" stroke="#2ca02c" stroke-opacity="1.0" stroke-width="1"/><circle cx="308.13" cy="278.48" r="3.3" fill="#2ca02c" fill-opacity="1.0" stroke="#2ca02c" stroke-opacity="1.0" stroke-width="1"/><circle cx="311.42" cy="288.19" r="3.3" fill="#2ca02c" fill-opacity="1.0" stroke="#2ca02c" stroke-opacity="1.0" stroke-width="1"/><circle cx="314.72" cy="298.26" r="3.3" fill="#2ca02c" fill-opacity="1.0" stroke="#2ca02c" stroke-opacity="1.0" stroke-width="1"/><circle cx="318.01" cy="300.06" r="3.3" fill="#2ca02c" fill-opacity="1.0" stroke="#2ca02c" stroke-opacity="1.0" stroke-width="1"/><circle cx="321.31" cy="288.91" r="3.3" fill="#2ca02c" fill-opacity="1.0" stroke="#2ca02c" stroke-opacity="1.0" stroke-width="1"/><circle cx="324.60" cy="291.43" r="3.3" fill="#2ca02c" fill-opacity="1.0" stroke="#2ca02c" stroke-opacity="1.0" stroke-width="1"/><circle cx="327.90" cy="301.86" r="3.3" fill="#2ca02c" fill-opacity="1.0" stroke="#2ca02c" stroke-opacity="1.0" stroke-width="1"/><circle cx="331.19" cy="291.43" r="3.3" fill="#2ca02c" fill-opacity="1.0" stroke="#2ca02c" stroke-opacity="1.0" stroke-width="1"/><circle cx="334.49" cy="293.23" r="3.3" fill="#2ca02c" fill-opacity="1.0" stroke="#2ca02c" stroke-opacity="1.0" stroke-width="1"/><circle cx="337.78" cy="297.54" r="3.3" fill="#2ca02c" fill-opacity="1.0" stroke="#2ca02c" stroke-opacity="1.0" stroke-width="1"/><circle cx="341.08" cy="286.39" r="3.3" fill="#2ca02c" fill-opacity="1.0" stroke="#2ca02c" stroke-opacity="1.0" stroke-width="1"/><circle cx="344.37" cy="277.76" r="3.3" fill="#2ca02c" fill-opacity="1.0" stroke="#2ca02c" stroke-opacity="1.0" stroke-width="1"/><circle cx="347.67" cy="290.71" r="3.3" fill="#2ca02c" fill-opacity="1.0" stroke="#2ca02c" stroke-opacity="1.0" stroke-width="1"/><circle cx="350.96" cy="283.88" r="3.3" fill="#2ca02c" fill-opacity="1.0" stroke="#2ca02c" stroke-opacity="1.0" stroke-width="1"/><circle cx="354.26" cy="299.34" r="3.3" fill="#2ca02c" fill-opacity="1.0" stroke="#2ca02c" stroke-opacity="1.0" stroke-width="1"/><circle cx="357.55" cy="300.06" r="3.3" fill="#2ca02c" fill-opacity="1.0" stroke="#2ca02c" stroke-opacity="1.0" stroke-width="1"/><circle cx="360.85" cy="301.86" r="3.3" fill="#2ca02c" fill-opacity="1.0" stroke="#2ca02c" stroke-opacity="1.0" stroke-width="1"/><circle cx="364.14" cy="289.63" r="3.3" fill="#2ca02c" fill-opacity="1.0" stroke="#2ca02c" stroke-opacity="1.0" stroke-width="1"/><circle cx="367.44" cy="300.06" r="3.3" fill="#2ca02c" fill-opacity="1.0" stroke="#2ca02c" stroke-opacity="1.0" stroke-width="1"/><circle cx="370.73" cy="280.28" r="3.3" fill="#2ca02c" fill-opacity="1.0" stroke="#2ca02c" stroke-opacity="1.0" stroke-width="1"/><circle cx="374.03" cy="292.51" r="3.3" fill="#2ca02c" fill-opacity="1.0" stroke="#2ca02c" stroke-opacity="1.0" stroke-width="1"/><circle cx="377.32" cy="295.75" r="3.3" fill="#2ca02c" fill-opacity="1.0" stroke="#2ca02c" stroke-opacity="1.0" stroke-width="1"/><circle cx="380.62" cy="293.23" r="3.3" fill="#2ca02c" fill-opacity="1.0" stroke="#2ca02c" stroke-opacity="1.0" stroke-width="1"/><circle cx="383.91" cy="290.71" r="3.3" fill="#2ca02c" fill-opacity="1.0" stroke="#2ca02c" stroke-opacity="1.0" stroke-width="1"/><circle cx="387.21" cy="288.19" r="3.3" fill="#2ca02c" fill-opacity="1.0" stroke="#2ca02c" stroke-opacity="1.0" stroke-width="1"/><circle cx="390.50" cy="275.24" r="3.3" fill="#2ca02c" fill-opacity="1.0" stroke="#2ca02c" stroke-opacity="1.0" stroke-width="1"/><circle cx="393.80" cy="287.11" r="3.3" fill="#2ca02c" fill-opacity="1.0" stroke="#2ca02c" stroke-opacity="1.0" stroke-width="1"/><circle cx="397.09" cy="277.76" r="3.3" fill="#2ca02c" fill-opacity="1.0" stroke="#2ca02c" stroke-opacity="1.0" stroke-width="1"/><circle cx="400.39" cy="282.08" r="3.3" fill="#2ca02c" fill-opacity="1.0" stroke="#2ca02c" stroke-opacity="1.0" stroke-width="1"/></g><g clip-path="url(#c2)" opacity="1"><path d="M74.19,243.95 L77.48,264.81 L80.78,224.89 L84.07,193.59 L87.37,201.86 L90.66,226.68 L93.96,254.38 L97.25,277.76 L100.55,286.39 L103.84,285.49 L107.14,284.60 L110.43,270.93 L113.73,266.97 L117.02,265.17 L120.32,270.93 L123.61,291.43 L126.91,301.86 L130.20,290.71 L133.50,292.51 L136.79,301.86 L140.09,287.11 L143.38,274.88 L146.68,259.42 L149.97,263.37 L153.27,268.41 L156.56,279.56 L159.86,296.83 L163.15,302.58 L166.45,295.03 L169.74,297.54 L173.04,293.95 L176.33,277.76 L179.63,267.33 L182.92,261.93 L186.22,259.42 L189.51,252.58 L192.81,263.73 L196.10,254.38 L199.40,246.47 L202.69,231.00 L205.99,225.96 L209.28,243.59 L212.58,242.87 L215.87,261.93 L219.17,277.76 L222.46,301.86 L225.76,288.91 L229.05,274.16 L232.35,278.48 L235.64,280.28 L238.93,300.06 L242.23,291.43 L245.52,286.39 L248.82,275.96 L252.11,282.08 L255.41,267.33 L258.70,272.37 L262.00,275.24 L265.29,280.28 L268.59,295.03 L271.88,296.83 L275.18,299.34 L278.47,303.66 L281.77,295.75 L285.06,293.95 L288.36,271.65 L291.65,282.08 L294.95,266.25 L298.24,256.90 L301.54,261.22 L304.83,253.66 L308.13,256.54 L311.42,264.45 L314.72,275.24 L318.01,272.37 L321.31,254.38 L324.60,254.02 L327.90,263.73 L331.19,253.30 L334.49,255.46 L337.78,270.93 L341.08,284.60 L344.37,286.03 L347.67,256.90 L350.96,269.85 L354.26,291.43 L357.55,300.06 L360.85,295.75 L364.14,282.80 L367.44,289.63 L370.73,272.37 L374.03,271.65 L377.32,281.72 L380.62,281.00 L383.91,263.73 L387.21,268.77 L390.50,268.77 L393.80,289.99 L397.09,252.22 L400.39,243.59" fill="none" stroke="#ff7f0e" stroke-opacity="0.5" stroke-width="1.6" stroke-linejoin="round" stroke-linecap="butt"/><circle cx="74.19" cy="243.95" r="3.3" fill="none" stroke="#ff7f0e" stroke-opacity="0.5" stroke-width="1"/><circle cx="77.48" cy="264.81" r="3.3" fill="none" stroke="#ff7f0e" stroke-opacity="0.5" stroke-width="1"/><circle cx="80.78" cy="224.89" r="3.3" fill="none" stroke="#ff7f0e" stroke-opacity="0.5" stroke-width="1"/><circle cx="84.07" cy="193.59" r="3.3" fill="none" stroke="#ff7f0e" stroke-opacity="0.5" stroke-width="1"/><circle cx="87.37" cy="201.86" r="3.3" fill="none" stroke="#ff7f0e" stroke-opacity="0.5" stroke-width="1"/><circle cx="90.66" cy="226.68" r="3.3" fill="none" stroke="#ff7f0e" stroke-opacity="0.5" stroke-width="1"/><circle cx="93.96" cy="254.38" r="3.3" fill="none" stroke="#ff7f0e" stroke-opacity="0.5" stroke-width="1"/><circle cx="97.25" cy="277.76" r="3.3" fill="none" stroke="#ff7f0e" stroke-opacity="0.5" stroke-width="1"/><circle cx="100.55" cy="286.39" r="3.3" fill="none" stroke="#ff7f0e" stroke-opacity="0.5" stroke-width="1"/><circle cx="103.84" cy="285.49" r="3.3" fill="none" stroke="#ff7f0e" stroke-opacity="0.5" stroke-width="1"/><circle cx="107.14" cy="284.60" r="3.3" fill="none" stroke="#ff7f0e" stroke-opacity="0.5" stroke-width="1"/><circle cx="110.43" cy="270.93" r="3.3" fill="none" stroke="#ff7f0e" stroke-opacity="0.5" stroke-width="1"/><circle cx="113.73" cy="266.97" r="3.3" fill="none" stroke="#ff7f0e" stroke-opacity="0.5" stroke-width="1"/><circle cx="117.02" cy="265.17" r="3.3" fill="none" stroke="#ff7f0e" stroke-opacity="0.5" stroke-width="1"/><circle cx="120.32" cy="270.93" r="3.3" fill="none" stroke="#ff7f0e" stroke-opacity="0.5" stroke-width="1"/><circle cx="123.61" cy="291.43" r="3.3" fill="none" stroke="#ff7f0e" stroke-opacity="0.5" stroke-width="1"/><circle cx="126.91" cy="301.86" r="3.3" fill="none" stroke="#ff7f0e" stroke-opacity="0.5" stroke-width="1"/><circle cx="130.20" cy="290.71" r="3.3" fill="none" stroke="#ff7f0e" stroke-opacity="0.5" stroke-width="1"/><circle cx="133.50" cy="292.51" r="3.3" fill="none" stroke="#ff7f0e" stroke-opacity="0.5" stroke-width="1"/><circle cx="136.79" cy="301.86" r="3.3" fill="none" stroke="#ff7f0e" stroke-opacity="0.5" stroke-width="1"/><circle cx="140.09" cy="287.11" r="3.3" fill="none" stroke="#ff7f0e" stroke-opacity="0.5" stroke-width="1"/><circle cx="143.38" cy="274.88" r="3.3" fill="none" stroke="#ff7f0e" stroke-opacity="0.5" stroke-width="1"/><circle cx="146.68" cy="259.42" r="3.3" fill="none" stroke="#ff7f0e" stroke-opacity="0.5" stroke-width="1"/><circle cx="149.97" cy="263.37" r="3.3" fill="none" stroke="#ff7f0e" stroke-opacity="0.5" stroke-width="1"/><circle cx="153.27" cy="268.41" r="3.3" fill="none" stroke="#ff7f0e" stroke-opacity="0.5" stroke-width="1"/><circle cx="156.56" cy="279.56" r="3.3" fill="none" stroke="#ff7f0e" stroke-opacity="0.5" stroke-width="1"/><circle cx="159.86" cy="296.83" r="3.3" fill="none" stroke="#ff7f0e" stroke-opacity="0.5" stroke-width="1"/><circle cx="163.15" cy="302.58" r="3.3" fill="none" stroke="#ff7f0e" stroke-opacity="0.5" stroke-width="1"/><circle cx="166.45" cy="295.03" r="3.3" fill="none" stroke="#ff7f0e" stroke-opacity="0.5" stroke-width="1"/><circle cx="169.74" cy="297.54" r="3.3" fill="none" stroke="#ff7f0e" stroke-opacity="0.5" stroke-width="1"/><circle cx="173.04" cy="293.95" r="3.3" fill="none" stroke="#ff7f0e" stroke-opacity="0.5" stroke-width="1"/><circle cx="176.33" cy="277.76" r="3.3" fill="none" stroke="#ff7f0e" stroke-opacity="0.5" stroke-width="1"/><circle cx="179.63" cy="267.33" r="3.3" fill="none" stroke="#ff7f0e" stroke-opacity="0.5" stroke-width="1"/><circle cx="182.92" cy="261.93" r="3.3" fill="none" stroke="#ff7f0e" stroke-opacity="0.5" stroke-width="1"/><circle cx="186.22" cy="259.42" r="3.3" fill="none" stroke="#ff7f0e" stroke-opacity="0.5" stroke-width="1"/><circle cx="189.51" cy="252.58" r="3.3" fill="none" stroke="#ff7f0e" stroke-opacity="0.5" stroke-width="1"/><circle cx="192.81" cy="263.73" r="3.3" fill="none" stroke="#ff7f0e" stroke-opacity="0.5" stroke-width="1"/><circle cx="196.10" cy="254.38" r="3.3" fill="none" stroke="#ff7f0e" stroke-opacity="0.5" stroke-width="1"/><circle cx="199.40" cy="246.47" r="3.3" fill="none" stroke="#ff7f0e" stroke-opacity="0.5" stroke-width="1"/><circle cx="202.69" cy="231.00" r="3.3" fill="none" stroke="#ff7f0e" stroke-opacity="0.5" stroke-width="1"/><circle cx="205.99" cy="225.96" r="3.3" fill="none" stroke="#ff7f0e" stroke-opacity="0.5" stroke-width="1"/><circle cx="209.28" cy="243.59" r="3.3" fill="none" stroke="#ff7f0e" stroke-opacity="0.5" stroke-width="1"/><circle cx="212.58" cy="242.87" r="3.3" fill="none" stroke="#ff7f0e" stroke-opacity="0.5" stroke-width="1"/><circle cx="215.87" cy="261.93" r="3.3" fill="none" stroke="#ff7f0e" stroke-opacity="0.5" stroke-width="1"/><circle cx="219.17" cy="277.76" r="3.3" fill="none" stroke="#ff7f0e" stroke-opacity="0.5" stroke-width="1"/><circle cx="222.46" cy="301.86" r="3.3" fill="none" stroke="#ff7f0e" stroke-opacity="0.5" stroke-width="1"/><circle cx="225.76" cy="288.91" r="3.3" fill="none" stroke="#ff7f0e" stroke-opacity="0.5" stroke-width="1"/><circle cx="229.05" cy="274.16" r="3.3" fill="none" stroke="#ff7f0e" stroke-opacity="0.5" stroke-width="1"/><circle cx="232.35" cy="278.48" r="3.3" fill="none" stroke="#ff7f0e" stroke-opacity="0.5" stroke-width="1"/><circle cx="235.64" cy="280.28" r="3.3" fill="none" stroke="#ff7f0e" stroke-opacity="0.5" stroke-width="1"/><circle cx="238.93" cy="300.06" r="3.3" fill="none" stroke="#ff7f0e" stroke-opacity="0.5" stroke-width="1"/><circle cx="242.23" cy="291.43" r="3.3" fill="none" stroke="#ff7f0e" stroke-opacity="0.5" stroke-width="1"/><circle cx="245.52" cy="286.39" r="3.3" fill="none" stroke="#ff7f0e" stroke-opacity="0.5" stroke-width="1"/><circle cx="248.82" cy="275.96" r="3.3" fill="none" stroke="#ff7f0e" stroke-opacity="0.5" stroke-width="1"/><circle cx="252.11" cy="282.08" r="3.3" fill="none" stroke="#ff7f0e" stroke-opacity="0.5" stroke-width="1"/><circle cx="255.41" cy="267.33" r="3.3" fill="none" stroke="#ff7f0e" stroke-opacity="0.5" stroke-width="1"/><circle cx="258.70" cy="272.37" r="3.3" fill="none" stroke="#ff7f0e" stroke-opacity="0.5" stroke-width="1"/><circle cx="262.00" cy="275.24" r="3.3" fill="none" stroke="#ff7f0e" stroke-opacity="0.5" stroke-width="1"/><circle cx="265.29" cy="280.28" r="3.3" fill="none" stroke="#ff7f0e" stroke-opacity="0.5" stroke-width="1"/><circle cx="268.59" cy="295.03" r="3.3" fill="none" stroke="#ff7f0e" stroke-opacity="0.5" stroke-width="1"/><circle cx="271.88" cy="296.83" r="3.3" fill="none" stroke="#ff7f0e" stroke-opacity="0.5" stroke-width="1"/><circle cx="275.18" cy="299.34" r="3.3" fill="none" stroke="#ff7f0e" stroke-opacity="0.5" stroke-width="1"/><circle cx="278.47" cy="303.66" r="3.3" fill="none" stroke="#ff7f0e" stroke-opacity="0.5" stroke-width="1"/><circle cx="281.77" cy="295.75" r="3.3" fill="none" stroke="#ff7f0e" stroke-opacity="0.5" stroke-width="1"/><circle cx="285.06" cy="293.95" r="3.3" fill="none" stroke="#ff7f0e" stroke-opacity="0.5" stroke-width="1"/><circle cx="288.36" cy="271.65" r="3.3" fill="none" stroke="#ff7f0e" stroke-opacity="0.5" stroke-width="1"/><circle cx="291.65" cy="282.08" r="3.3" fill="none" stroke="#ff7f0e" stroke-opacity="0.5" stroke-width="1"/><circle cx="294.95" cy="266.25" r="3.3" fill="none" stroke="#ff7f0e" stroke-opacity="0.5" stroke-width="1"/><circle cx="298.24" cy="256.90" r="3.3" fill="none" stroke="#ff7f0e" stroke-opacity="0.5" stroke-width="1"/><circle cx="301.54" cy="261.22" r="3.3" fill="none" stroke="#ff7f0e" stroke-opacity="0.5" stroke-width="1"/><circle cx="304.83" cy="253.66" r="3.3" fill="none" stroke="#ff7f0e" stroke-opacity="0.5" stroke-width="1"/><circle cx="308.13" cy="256.54" r="3.3" fill="none" stroke="#ff7f0e" stroke-opacity="0.5" stroke-width="1"/><circle cx="311.42" cy="264.45" r="3.3" fill="none" stroke="#ff7f0e" stroke-opacity="0.5" stroke-width="1"/><circle cx="314.72" cy="275.24" r="3.3" fill="none" stroke="#ff7f0e" stroke-opacity="0.5" stroke-width="1"/><circle cx="318.01" cy="272.37" r="3.3" fill="none" stroke="#ff7f0e" stroke-opacity="0.5" stroke-width="1"/><circle cx="321.31" cy="254.38" r="3.3" fill="none" stroke="#ff7f0e" stroke-opacity="0.5" stroke-width="1"/><circle cx="324.60" cy="254.02" r="3.3" fill="none" stroke="#ff7f0e" stroke-opacity="0.5" stroke-width="1"/><circle cx="327.90" cy="263.73" r="3.3" fill="none" stroke="#ff7f0e" stroke-opacity="0.5" stroke-width="1"/><circle cx="331.19" cy="253.30" r="3.3" fill="none" stroke="#ff7f0e" stroke-opacity="0.5" stroke-width="1"/><circle cx="334.49" cy="255.46" r="3.3" fill="none" stroke="#ff7f0e" stroke-opacity="0.5" stroke-width="1"/><circle cx="337.78" cy="270.93" r="3.3" fill="none" stroke="#ff7f0e" stroke-opacity="0.5" stroke-width="1"/><circle cx="341.08" cy="284.60" r="3.3" fill="none" stroke="#ff7f0e" stroke-opacity="0.5" stroke-width="1"/><circle cx="344.37" cy="286.03" r="3.3" fill="none" stroke="#ff7f0e" stroke-opacity="0.5" stroke-width="1"/><circle cx="347.67" cy="256.90" r="3.3" fill="none" stroke="#ff7f0e" stroke-opacity="0.5" stroke-width="1"/><circle cx="350.96" cy="269.85" r="3.3" fill="none" stroke="#ff7f0e" stroke-opacity="0.5" stroke-width="1"/><circle cx="354.26" cy="291.43" r="3.3" fill="none" stroke="#ff7f0e" stroke-opacity="0.5" stroke-width="1"/><circle cx="357.55" cy="300.06" r="3.3" fill="none" stroke="#ff7f0e" stroke-opacity="0.5" stroke-width="1"/><circle cx="360.85" cy="295.75" r="3.3" fill="none" stroke="#ff7f0e" stroke-opacity="0.5" stroke-width="1"/><circle cx="364.14" cy="282.80" r="3.3" fill="none" stroke="#ff7f0e" stroke-opacity="0.5" stroke-width="1"/><circle cx="367.44" cy="289.63" r="3.3" fill="none" stroke="#ff7f0e" stroke-opacity="0.5" stroke-width="1"/><circle cx="370.73" cy="272.37" r="3.3" fill="none" stroke="#ff7f0e" stroke-opacity="0.5" stroke-width="1"/><circle cx="374.03" cy="271.65" r="3.3" fill="none" stroke="#ff7f0e" stroke-opacity="0.5" stroke-width="1"/><circle cx="377.32" cy="281.72" r="3.3" fill="none" stroke="#ff7f0e" stroke-opacity="0.5" stroke-width="1"/><circle cx="380.62" cy="281.00" r="3.3" fill="none" stroke="#ff7f0e" stroke-opacity="0.5" stroke-width="1"/><circle cx="383.91" cy="263.73" r="3.3" fill="none" stroke="#ff7f0e" stroke-opacity="0.5" stroke-width="1"/><circle cx="387.21" cy="268.77" r="3.3" fill="none" stroke="#ff7f0e" stroke-opacity="0.5" stroke-width="1"/><circle cx="390.50" cy="268.77" r="3.3" fill="none" stroke="#ff7f0e" stroke-opacity="0.5" stroke-width="1"/><circle cx="393.80" cy="289.99" r="3.3" fill="none" stroke="#ff7f0e" stroke-opacity="0.5" stroke-width="1"/><circle cx="397.09" cy="252.22" r="3.3" fill="none" stroke="#ff7f0e" stroke-opacity="0.5" stroke-width="1"/><circle cx="400.39" cy="243.59" r="3.3" fill="none" stroke="#ff7f0e" stroke-opacity="0.5" stroke-width="1"/></g><g clip-path="url(#c2)" opacity="1"><path d="M74.19,252.58 L77.48,239.63 L80.78,291.43 L84.07,231.36 L87.37,201.86 L90.66,192.87 L93.96,194.67 L97.25,206.18 L100.55,225.96 L103.84,243.95 L107.14,260.14 L110.43,255.82 L113.73,259.78 L117.02,248.99 L120.32,250.78 L123.61,252.58 L126.91,250.06 L130.20,257.98 L133.50,269.49 L136.79,266.61 L140.09,266.61 L143.38,261.57 L146.68,247.55 L149.97,240.35 L153.27,240.35 L156.56,233.52 L159.86,250.06 L163.15,261.93 L166.45,275.96 L169.74,281.72 L173.04,278.84 L176.33,276.68 L179.63,272.37 L182.92,268.77 L186.22,265.53 L189.51,261.93 L192.81,294.67 L196.10,296.11 L199.40,285.67 L202.69,279.20 L205.99,282.44 L209.28,281.72 L212.58,291.43 L215.87,268.77 L219.17,263.73 L222.46,260.86 L225.76,255.82 L229.05,248.99 L232.35,238.55 L235.64,236.76 L238.93,227.40 L242.23,252.22 L245.52,236.04 L248.82,242.87 L252.11,259.42 L255.41,251.50 L258.70,255.82 L262.00,260.86 L265.29,265.17 L268.59,270.57 L271.88,263.73 L275.18,270.93 L278.47,260.86 L281.77,250.78 L285.06,245.03 L288.36,237.83 L291.65,256.90 L294.95,244.67 L298.24,246.47 L301.54,261.22 L304.83,261.93 L308.13,267.33 L311.42,278.48 L314.72,301.86 L318.01,301.14 L321.31,298.98 L324.60,295.75 L327.90,292.51 L331.19,296.83 L334.49,298.26 L337.78,285.31 L341.08,286.39 L344.37,295.75 L347.67,265.17 L350.96,251.50 L354.26,257.98 L357.55,253.30 L360.85,245.39 L364.14,261.93 L367.44,247.91 L370.73,271.29 L374.03,261.93 L377.32,246.11 L380.62,241.07 L383.91,256.54 L387.21,255.82 L390.50,268.77 L393.80,260.86 L397.09,232.08 L400.39,253.30" fill="none" stroke="#d62728" stroke-opacity="0.5" stroke-width="1.6" stroke-linejoin="round" stroke-linecap="butt"/><circle cx="74.19" cy="252.58" r="3.3" fill="none" stroke="#d62728" stroke-opacity="0.5" stroke-width="1"/><circle cx="77.48" cy="239.63" r="3.3" fill="none" stroke="#d62728" stroke-opacity="0.5" stroke-width="1"/><circle cx="80.78" cy="291.43" r="3.3" fill="none" stroke="#d62728" stroke-opacity="0.5" stroke-width="1"/><circle cx="84.07" cy="231.36" r="3.3" fill="none" stroke="#d62728" stroke-opacity="0.5" stroke-width="1"/><circle cx="87.37" cy="201.86" r="3.3" fill="none" stroke="#d62728" stroke-opacity="0.5" stroke-width="1"/><circle cx="90.66" cy="192.87" r="3.3" fill="none" stroke="#d62728" stroke-opacity="0.5" stroke-width="1"/><circle cx="93.96" cy="194.67" r="3.3" fill="none" stroke="#d62728" stroke-opacity="0.5" stroke-width="1"/><circle cx="97.25" cy="206.18" r="3.3" fill="none" stroke="#d62728" stroke-opacity="0.5" stroke-width="1"/><circle cx="100.55" cy="225.96" r="3.3" fill="none" stroke="#d62728" stroke-opacity="0.5" stroke-width="1"/><circle cx="103.84" cy="243.95" r="3.3" fill="none" stroke="#d62728" stroke-opacity="0.5" stroke-width="1"/><circle cx="107.14" cy="260.14" r="3.3" fill="none" stroke="#d62728" stroke-opacity="0.5" stroke-width="1"/><circle cx="110.43" cy="255.82" r="3.3" fill="none" stroke="#d62728" stroke-opacity="0.5" stroke-width="1"/><circle cx="113.73" cy="259.78" r="3.3" fill="none" stroke="#d62728" stroke-opacity="0.5" stroke-width="1"/><circle cx="117.02" cy="248.99" r="3.3" fill="none" stroke="#d62728" stroke-opacity="0.5" stroke-width="1"/><circle cx="120.32" cy="250.78" r="3.3" fill="none" stroke="#d62728" stroke-opacity="0.5" stroke-width="1"/><circle cx="123.61" cy="252.58" r="3.3" fill="none" stroke="#d62728" stroke-opacity="0.5" stroke-width="1"/><circle cx="126.91" cy="250.06" r="3.3" fill="none" stroke="#d62728" stroke-opacity="0.5" stroke-width="1"/><circle cx="130.20" cy="257.98" r="3.3" fill="none" stroke="#d62728" stroke-opacity="0.5" stroke-width="1"/><circle cx="133.50" cy="269.49" r="3.3" fill="none" stroke="#d62728" stroke-opacity="0.5" stroke-width="1"/><circle cx="136.79" cy="266.61" r="3.3" fill="none" stroke="#d62728" stroke-opacity="0.5" stroke-width="1"/><circle cx="140.09" cy="266.61" r="3.3" fill="none" stroke="#d62728" stroke-opacity="0.5" stroke-width="1"/><circle cx="143.38" cy="261.57" r="3.3" fill="none" stroke="#d62728" stroke-opacity="0.5" stroke-width="1"/><circle cx="146.68" cy="247.55" r="3.3" fill="none" stroke="#d62728" stroke-opacity="0.5" stroke-width="1"/><circle cx="149.97" cy="240.35" r="3.3" fill="none" stroke="#d62728" stroke-opacity="0.5" stroke-width="1"/><circle cx="153.27" cy="240.35" r="3.3" fill="none" stroke="#d62728" stroke-opacity="0.5" stroke-width="1"/><circle cx="156.56" cy="233.52" r="3.3" fill="none" stroke="#d62728" stroke-opacity="0.5" stroke-width="1"/><circle cx="159.86" cy="250.06" r="3.3" fill="none" stroke="#d62728" stroke-opacity="0.5" stroke-width="1"/><circle cx="163.15" cy="261.93" r="3.3" fill="none" stroke="#d62728" stroke-opacity="0.5" stroke-width="1"/><circle cx="166.45" cy="275.96" r="3.3" fill="none" stroke="#d62728" stroke-opacity="0.5" stroke-width="1"/><circle cx="169.74" cy="281.72" r="3.3" fill="none" stroke="#d62728" stroke-opacity="0.5" stroke-width="1"/><circle cx="173.04" cy="278.84" r="3.3" fill="none" stroke="#d62728" stroke-opacity="0.5" stroke-width="1"/><circle cx="176.33" cy="276.68" r="3.3" fill="none" stroke="#d62728" stroke-opacity="0.5" stroke-width="1"/><circle cx="179.63" cy="272.37" r="3.3" fill="none" stroke="#d62728" stroke-opacity="0.5" stroke-width="1"/><circle cx="182.92" cy="268.77" r="3.3" fill="none" stroke="#d62728" stroke-opacity="0.5" stroke-width="1"/><circle cx="186.22" cy="265.53" r="3.3" fill="none" stroke="#d62728" stroke-opacity="0.5" stroke-width="1"/><circle cx="189.51" cy="261.93" r="3.3" fill="none" stroke="#d62728" stroke-opacity="0.5" stroke-width="1"/><circle cx="192.81" cy="294.67" r="3.3" fill="none" stroke="#d62728" stroke-opacity="0.5" stroke-width="1"/><circle cx="196.10" cy="296.11" r="3.3" fill="none" stroke="#d62728" stroke-opacity="0.5" stroke-width="1"/><circle cx="199.40" cy="285.67" r="3.3" fill="none" stroke="#d62728" stroke-opacity="0.5" stroke-width="1"/><circle cx="202.69" cy="279.20" r="3.3" fill="none" stroke="#d62728" stroke-opacity="0.5" stroke-width="1"/><circle cx="205.99" cy="282.44" r="3.3" fill="none" stroke="#d62728" stroke-opacity="0.5" stroke-width="1"/><circle cx="209.28" cy="281.72" r="3.3" fill="none" stroke="#d62728" stroke-opacity="0.5" stroke-width="1"/><circle cx="212.58" cy="291.43" r="3.3" fill="none" stroke="#d62728" stroke-opacity="0.5" stroke-width="1"/><circle cx="215.87" cy="268.77" r="3.3" fill="none" stroke="#d62728" stroke-opacity="0.5" stroke-width="1"/><circle cx="219.17" cy="263.73" r="3.3" fill="none" stroke="#d62728" stroke-opacity="0.5" stroke-width="1"/><circle cx="222.46" cy="260.86" r="3.3" fill="none" stroke="#d62728" stroke-opacity="0.5" stroke-width="1"/><circle cx="225.76" cy="255.82" r="3.3" fill="none" stroke="#d62728" stroke-opacity="0.5" stroke-width="1"/><circle cx="229.05" cy="248.99" r="3.3" fill="none" stroke="#d62728" stroke-opacity="0.5" stroke-width="1"/><circle cx="232.35" cy="238.55" r="3.3" fill="none" stroke="#d62728" stroke-opacity="0.5" stroke-width="1"/><circle cx="235.64" cy="236.76" r="3.3" fill="none" stroke="#d62728" stroke-opacity="0.5" stroke-width="1"/><circle cx="238.93" cy="227.40" r="3.3" fill="none" stroke="#d62728" stroke-opacity="0.5" stroke-width="1"/><circle cx="242.23" cy="252.22" r="3.3" fill="none" stroke="#d62728" stroke-opacity="0.5" stroke-width="1"/><circle cx="245.52" cy="236.04" r="3.3" fill="none" stroke="#d62728" stroke-opacity="0.5" stroke-width="1"/><circle cx="248.82" cy="242.87" r="3.3" fill="none" stroke="#d62728" stroke-opacity="0.5" stroke-width="1"/><circle cx="252.11" cy="259.42" r="3.3" fill="none" stroke="#d62728" stroke-opacity="0.5" stroke-width="1"/><circle cx="255.41" cy="251.50" r="3.3" fill="none" stroke="#d62728" stroke-opacity="0.5" stroke-width="1"/><circle cx="258.70" cy="255.82" r="3.3" fill="none" stroke="#d62728" stroke-opacity="0.5" stroke-width="1"/><circle cx="262.00" cy="260.86" r="3.3" fill="none" stroke="#d62728" stroke-opacity="0.5" stroke-width="1"/><circle cx="265.29" cy="265.17" r="3.3" fill="none" stroke="#d62728" stroke-opacity="0.5" stroke-width="1"/><circle cx="268.59" cy="270.57" r="3.3" fill="none" stroke="#d62728" stroke-opacity="0.5" stroke-width="1"/><circle cx="271.88" cy="263.73" r="3.3" fill="none" stroke="#d62728" stroke-opacity="0.5" stroke-width="1"/><circle cx="275.18" cy="270.93" r="3.3" fill="none" stroke="#d62728" stroke-opacity="0.5" stroke-width="1"/><circle cx="278.47" cy="260.86" r="3.3" fill="none" stroke="#d62728" stroke-opacity="0.5" stroke-width="1"/><circle cx="281.77" cy="250.78" r="3.3" fill="none" stroke="#d62728" stroke-opacity="0.5" stroke-width="1"/><circle cx="285.06" cy="245.03" r="3.3" fill="none" stroke="#d62728" stroke-opacity="0.5" stroke-width="1"/><circle cx="288.36" cy="237.83" r="3.3" fill="none" stroke="#d62728" stroke-opacity="0.5" stroke-width="1"/><circle cx="291.65" cy="256.90" r="3.3" fill="none" stroke="#d62728" stroke-opacity="0.5" stroke-width="1"/><circle cx="294.95" cy="244.67" r="3.3" fill="none" stroke="#d62728" stroke-opacity="0.5" stroke-width="1"/><circle cx="298.24" cy="246.47" r="3.3" fill="none" stroke="#d62728" stroke-opacity="0.5" stroke-width="1"/><circle cx="301.54" cy="261.22" r="3.3" fill="none" stroke="#d62728" stroke-opacity="0.5" stroke-width="1"/><circle cx="304.83" cy="261.93" r="3.3" fill="none" stroke="#d62728" stroke-opacity="0.5" stroke-width="1"/><circle cx="308.13" cy="267.33" r="3.3" fill="none" stroke="#d62728" stroke-opacity="0.5" stroke-width="1"/><circle cx="311.42" cy="278.48" r="3.3" fill="none" stroke="#d62728" stroke-opacity="0.5" stroke-width="1"/><circle cx="314.72" cy="301.86" r="3.3" fill="none" stroke="#d62728" stroke-opacity="0.5" stroke-width="1"/><circle cx="318.01" cy="301.14" r="3.3" fill="none" stroke="#d62728" stroke-opacity="0.5" stroke-width="1"/><circle cx="321.31" cy="298.98" r="3.3" fill="none" stroke="#d62728" stroke-opacity="0.5" stroke-width="1"/><circle cx="324.60" cy="295.75" r="3.3" fill="none" stroke="#d62728" stroke-opacity="0.5" stroke-width="1"/><circle cx="327.90" cy="292.51" r="3.3" fill="none" stroke="#d62728" stroke-opacity="0.5" stroke-width="1"/><circle cx="331.19" cy="296.83" r="3.3" fill="none" stroke="#d62728" stroke-opacity="0.5" stroke-width="1"/><circle cx="334.49" cy="298.26" r="3.3" fill="none" stroke="#d62728" stroke-opacity="0.5" stroke-width="1"/><circle cx="337.78" cy="285.31" r="3.3" fill="none" stroke="#d62728" stroke-opacity="0.5" stroke-width="1"/><circle cx="341.08" cy="286.39" r="3.3" fill="none" stroke="#d62728" stroke-opacity="0.5" stroke-width="1"/><circle cx="344.37" cy="295.75" r="3.3" fill="none" stroke="#d62728" stroke-opacity="0.5" stroke-width="1"/><circle cx="347.67" cy="265.17" r="3.3" fill="none" stroke="#d62728" stroke-opacity="0.5" stroke-width="1"/><circle cx="350.96" cy="251.50" r="3.3" fill="none" stroke="#d62728" stroke-opacity="0.5" stroke-width="1"/><circle cx="354.26" cy="257.98" r="3.3" fill="none" stroke="#d62728" stroke-opacity="0.5" stroke-width="1"/><circle cx="357.55" cy="253.30" r="3.3" fill="none" stroke="#d62728" stroke-opacity="0.5" stroke-width="1"/><circle cx="360.85" cy="245.39" r="3.3" fill="none" stroke="#d62728" stroke-opacity="0.5" stroke-width="1"/><circle cx="364.14" cy="261.93" r="3.3" fill="none" stroke="#d62728" stroke-opacity="0.5" stroke-width="1"/><circle cx="367.44" cy="247.91" r="3.3" fill="none" stroke="#d62728" stroke-opacity="0.5" stroke-width="1"/><circle cx="370.73" cy="271.29" r="3.3" fill="none" stroke="#d62728" stroke-opacity="0.5" stroke-width="1"/><circle cx="374.03" cy="261.93" r="3.3" fill="none" stroke="#d62728" stroke-opacity="0.5" stroke-width="1"/><circle cx="377.32" cy="246.11" r="3.3" fill="none" stroke="#d62728" stroke-opacity="0.5" stroke-width="1"/><circle cx="380.62" cy="241.07" r="3.3" fill="none" stroke="#d62728" stroke-opacity="0.5" stroke-width="1"/><circle cx="383.91" cy="256.54" r="3.3" fill="none" stroke="#d62728" stroke-opacity="0.5" stroke-width="1"/><circle cx="387.21" cy="255.82" r="3.3" fill="none" stroke="#d62728" stroke-opacity="0.5" stroke-width="1"/><circle cx="390.50" cy="268.77" r="3.3" fill="none" stroke="#d62728" stroke-opacity="0.5" stroke-width="1"/><circle cx="393.80" cy="260.86" r="3.3" fill="none" stroke="#d62728" stroke-opacity="0.5" stroke-width="1"/><circle cx="397.09" cy="232.08" r="3.3" fill="none" stroke="#d62728" stroke-opacity="0.5" stroke-width="1"/><circle cx="400.39" cy="253.30" r="3.3" fill="none" stroke="#d62728" stroke-opacity="0.5" stroke-width="1"/></g><rect x="57.875" y="41.64" width="358.825" height="121.45" fill="none" stroke="#000" stroke-width="0.8"/><line x1="74.19" y1="163.09" x2="74.19" y2="166.59" stroke="#000" stroke-width="0.8"/><text x="74.19" y="177.89000000000001" font-family="Liberation Sans, sans-serif" stroke="#000" stroke-width="0.22" font-size="10.3" text-anchor="middle" fill="#000" textLength="6.3" lengthAdjust="spacingAndGlyphs">0</text><line x1="140.09" y1="163.09" x2="140.09" y2="166.59" stroke="#000" stroke-width="0.8"/><text x="140.09" y="177.89000000000001" font-family="Liberation Sans, sans-serif" stroke="#000" stroke-width="0.22" font-size="10.3" text-anchor="middle" fill="#000" textLength="12.6" lengthAdjust="spacingAndGlyphs">20</text><line x1="205.99" y1="163.09" x2="205.99" y2="166.59" stroke="#000" stroke-width="0.8"/><text x="205.99" y="177.89000000000001" font-family="Liberation Sans, sans-serif" stroke="#000" stroke-width="0.22" font-size="10.3" text-anchor="middle" fill="#000" textLength="12.6" lengthAdjust="spacingAndGlyphs">40</text><line x1="271.88" y1="163.09" x2="271.88" y2="166.59" stroke="#000" stroke-width="0.8"/><text x="271.88" y="177.89000000000001" font-family="Liberation Sans, sans-serif" stroke="#000" stroke-width="0.22" font-size="10.3" text-anchor="middle" fill="#000" textLength="12.6" lengthAdjust="spacingAndGlyphs">60</text><line x1="337.78" y1="163.09" x2="337.78" y2="166.59" stroke="#000" stroke-width="0.8"/><text x="337.78" y="177.89000000000001" font-family="Liberation Sans, sans-serif" stroke="#000" stroke-width="0.22" font-size="10.3" text-anchor="middle" fill="#000" textLength="12.6" lengthAdjust="spacingAndGlyphs">80</text><line x1="403.68" y1="163.09" x2="403.68" y2="166.59" stroke="#000" stroke-width="0.8"/><text x="403.68" y="177.89000000000001" font-family="Liberation Sans, sans-serif" stroke="#000" stroke-width="0.22" font-size="10.3" text-anchor="middle" fill="#000" textLength="18.9" lengthAdjust="spacingAndGlyphs">100</text><rect x="57.875" y="187.38" width="358.825" height="121.44999999999999" fill="none" stroke="#000" stroke-width="0.8"/><line x1="74.19" y1="308.83" x2="74.19" y2="312.33" stroke="#000" stroke-width="0.8"/><text x="74.19" y="323.63" font-family="Liberation Sans, sans-serif" stroke="#000" stroke-width="0.22" font-size="10.3" text-anchor="middle" fill="#000" textLength="6.3" lengthAdjust="spacingAndGlyphs">0</text><line x1="140.09" y1="308.83" x2="140.09" y2="312.33" stroke="#000" stroke-width="0.8"/><text x="140.09" y="323.63" font-family="Liberation Sans, sans-serif" stroke="#000" stroke-width="0.22" font-size="10.3" text-anchor="middle" fill="#000" textLength="12.6" lengthAdjust="spacingAndGlyphs">20</text><line x1="205.99" y1="308.83" x2="205.99" y2="312.33" stroke="#000" stroke-width="0.8"/><text x="205.99" y="323.63" font-family="Liberation Sans, sans-serif" stroke="#000" stroke-width="0.22" font-size="10.3" text-anchor="middle" fill="#000" textLength="12.6" lengthAdjust="spacingAndGlyphs">40</text><line x1="271.88" y1="308.83" x2="271.88" y2="312.33" stroke="#000" stroke-width="0.8"/><text x="271.88" y="323.63" font-family="Liberation Sans, sans-serif" stroke="#000" stroke-width="0.22" font-size="10.3" text-anchor="middle" fill="#000" textLength="12.6" lengthAdjust="spacingAndGlyphs">60</text><line x1="337.78" y1="308.83" x2="337.78" y2="312.33" stroke="#000" stroke-width="0.8"/><text x="337.78" y="323.63" font-family="Liberation Sans, sans-serif" stroke="#000" stroke-width="0.22" font-size="10.3" text-anchor="middle" fill="#000" textLength="12.6" lengthAdjust="spacingAndGlyphs">80</text><line x1="403.68" y1="308.83" x2="403.68" y2="312.33" stroke="#000" stroke-width="0.8"/><text x="403.68" y="323.63" font-family="Liberation Sans, sans-serif" stroke="#000" stroke-width="0.22" font-size="10.3" text-anchor="middle" fill="#000" textLength="18.9" lengthAdjust="spacingAndGlyphs">100</text><line x1="54.375" y1="146.10" x2="57.875" y2="146.10" stroke="#000" stroke-width="0.8"/><text x="51.075" y="149.80" font-family="Liberation Sans, sans-serif" stroke="#000" stroke-width="0.22" font-size="10.3" text-anchor="end" fill="#000" textLength="15.6" lengthAdjust="spacingAndGlyphs">0.2</text><line x1="54.375" y1="121.35" x2="57.875" y2="121.35" stroke="#000" stroke-width="0.8"/><text x="51.075" y="125.05" font-family="Liberation Sans, sans-serif" stroke="#000" stroke-width="0.22" font-size="10.3" text-anchor="end" fill="#000" textLength="15.6" lengthAdjust="spacingAndGlyphs">0.4</text><line x1="54.375" y1="96.60" x2="57.875" y2="96.60" stroke="#000" stroke-width="0.8"/><text x="51.075" y="100.30" font-family="Liberation Sans, sans-serif" stroke="#000" stroke-width="0.22" font-size="10.3" text-anchor="end" fill="#000" textLength="15.6" lengthAdjust="spacingAndGlyphs">0.6</text><line x1="54.375" y1="71.85" x2="57.875" y2="71.85" stroke="#000" stroke-width="0.8"/><text x="51.075" y="75.55" font-family="Liberation Sans, sans-serif" stroke="#000" stroke-width="0.22" font-size="10.3" text-anchor="end" fill="#000" textLength="15.6" lengthAdjust="spacingAndGlyphs">0.8</text><line x1="54.375" y1="47.10" x2="57.875" y2="47.10" stroke="#000" stroke-width="0.8"/><text x="51.075" y="50.80" font-family="Liberation Sans, sans-serif" stroke="#000" stroke-width="0.22" font-size="10.3" text-anchor="end" fill="#000" textLength="15.6" lengthAdjust="spacingAndGlyphs">1.0</text><line x1="54.375" y1="303.30" x2="57.875" y2="303.30" stroke="#000" stroke-width="0.8"/><text x="51.075" y="307.00" font-family="Liberation Sans, sans-serif" stroke="#000" stroke-width="0.22" font-size="10.3" text-anchor="end" fill="#000" textLength="15.6" lengthAdjust="spacingAndGlyphs">0.0</text><line x1="54.375" y1="267.33" x2="57.875" y2="267.33" stroke="#000" stroke-width="0.8"/><text x="51.075" y="271.03" font-family="Liberation Sans, sans-serif" stroke="#000" stroke-width="0.22" font-size="10.3" text-anchor="end" fill="#000" textLength="15.6" lengthAdjust="spacingAndGlyphs">0.1</text><line x1="54.375" y1="231.36" x2="57.875" y2="231.36" stroke="#000" stroke-width="0.8"/><text x="51.075" y="235.06" font-family="Liberation Sans, sans-serif" stroke="#000" stroke-width="0.22" font-size="10.3" text-anchor="end" fill="#000" textLength="15.6" lengthAdjust="spacingAndGlyphs">0.2</text><line x1="54.375" y1="195.39" x2="57.875" y2="195.39" stroke="#000" stroke-width="0.8"/><text x="51.075" y="199.09" font-family="Liberation Sans, sans-serif" stroke="#000" stroke-width="0.22" font-size="10.3" text-anchor="end" fill="#000" textLength="15.6" lengthAdjust="spacingAndGlyphs">0.3</text><text x="237.7" y="340.1" font-family="Liberation Sans, sans-serif" stroke="#000" stroke-width="0.22" font-size="14.8" text-anchor="middle" fill="#000" textLength="145" lengthAdjust="spacingAndGlyphs">evolution time [a.u.]</text><line x1="205" y1="54.7" x2="226.4" y2="54.7" stroke="#1f77b4" stroke-opacity="1" stroke-width="1.6"/><circle cx="215.7" cy="54.7" r="3.3" fill="#1f77b4" fill-opacity="1" stroke="#1f77b4" stroke-opacity="1" stroke-width="1"/><text x="234.2" y="58.300000000000004" font-family="Liberation Sans, sans-serif" stroke="#000" stroke-width="0.22" font-size="10.6" fill="#000" textLength="57" lengthAdjust="spacingAndGlyphs">experiment</text><line x1="205" y1="68.9" x2="226.4" y2="68.9" stroke="#ff7f0e" stroke-opacity="0.5" stroke-width="1.6"/><circle cx="215.7" cy="68.9" r="3.3" fill="#ff7f0e" fill-opacity="0.5" stroke="#ff7f0e" stroke-opacity="0.5" stroke-width="1"/><text x="234.2" y="72.5" font-family="Liberation Sans, sans-serif" stroke="#000" stroke-width="0.22" font-size="10.6" fill="#000" textLength="45.5" lengthAdjust="spacingAndGlyphs">noiseless</text><line x1="311" y1="54.6" x2="332.6" y2="54.6" stroke="#d62728" stroke-opacity="0.5" stroke-width="1.6"/><circle cx="321.8" cy="54.6" r="3.3" fill="#d62728" fill-opacity="0.5" stroke="#d62728" stroke-opacity="0.5" stroke-width="1"/><text x="339.8" y="58.5" font-family="Liberation Sans, sans-serif" stroke="#000" stroke-width="0.22" font-size="10.6" fill="#000" textLength="61.8" lengthAdjust="spacingAndGlyphs">depolarizing</text><line x1="311" y1="69.5" x2="332.6" y2="69.5" stroke="#2ca02c" stroke-opacity="1" stroke-width="1.6"/><circle cx="321.8" cy="69.5" r="3.3" fill="#2ca02c" fill-opacity="1" stroke="#2ca02c" stroke-opacity="1" stroke-width="1"/><text x="339.8" y="73.3" font-family="Liberation Sans, sans-serif" stroke="#000" stroke-width="0.22" font-size="10.6" fill="#000" textLength="68" lengthAdjust="spacingAndGlyphs">approx. noise</text><line x1="91.8" y1="200.5" x2="113.4" y2="200.5" stroke="#2ca02c" stroke-opacity="1" stroke-width="1.6"/><circle cx="102.6" cy="200.5" r="3.3" fill="#2ca02c" fill-opacity="1" stroke="#2ca02c" stroke-opacity="1" stroke-width="1"/><text x="121.1" y="204.1" font-family="Liberation Sans, sans-serif" stroke="#000" stroke-width="0.22" font-size="10.6" fill="#000" textLength="62" lengthAdjust="spacingAndGlyphs">exp.-approx.</text><line x1="202.8" y1="200.5" x2="224" y2="200.5" stroke="#ff7f0e" stroke-opacity="0.5" stroke-width="1.6"/><circle cx="213.4" cy="200.5" r="3.3" fill="none" stroke="#ff7f0e" stroke-opacity="0.5" stroke-width="1"/><text x="232" y="204.1" font-family="Liberation Sans, sans-serif" stroke="#000" stroke-width="0.22" font-size="10.6" fill="#000" textLength="70.5" lengthAdjust="spacingAndGlyphs">exp.-noiseless</text><line x1="321.8" y1="200.5" x2="343.4" y2="200.5" stroke="#d62728" stroke-opacity="0.5" stroke-width="1.6"/><circle cx="332.6" cy="200.5" r="3.3" fill="none" stroke="#d62728" stroke-opacity="0.5" stroke-width="1"/><text x="351.7" y="204.1" font-family="Liberation Sans, sans-serif" stroke="#000" stroke-width="0.22" font-size="10.6" fill="#000" textLength="55.5" lengthAdjust="spacingAndGlyphs">exp.-depol.</text><g transform="translate(26.1,128) rotate(-90)"><path d="M3.3,-10.2 L0.4,-4.3 L3.3,1.6" fill="none" stroke="#000" stroke-width="0.95"/><text x="4.0" y="0" font-family="Liberation Sans, sans-serif" font-style="italic" font-size="14.2" fill="#000" stroke="#000" stroke-width="0.25">a</text><path d="M16.3,-12.6 L16.3,-4.4 M14.9,-10.3 L17.7,-10.3" fill="none" stroke="#000" stroke-width="0.9"/><text x="13.6" y="4.3" font-family="Liberation Sans, sans-serif" font-size="10.4" fill="#000" stroke="#000" stroke-width="0.2" textLength="11.6" lengthAdjust="spacingAndGlyphs">12</text><text x="25.8" y="0" font-family="Liberation Sans, sans-serif" font-style="italic" font-size="14.2" fill="#000" stroke="#000" stroke-width="0.25">a</text><text x="34.8" y="4.3" font-family="Liberation Sans, sans-serif" font-size="10.4" fill="#000" stroke="#000" stroke-width="0.2" textLength="11.6" lengthAdjust="spacingAndGlyphs">12</text><path d="M48.2,-10.2 L51.1,-4.3 L48.2,1.6" fill="none" stroke="#000" stroke-width="0.95"/></g><g transform="translate(26.1,313.4) rotate(-90)"><path d="M0.95,-10.3 L0.95,3.6" fill="none" stroke="#000" stroke-width="1.0"/><path d="M7.199999999999999,-10.2 L4.3,-4.3 L7.199999999999999,1.6" fill="none" stroke="#000" stroke-width="0.95"/><text x="7.9" y="0" font-family="Liberation Sans, sans-serif" font-style="italic" font-size="14.2" fill="#000" stroke="#000" stroke-width="0.25">a</text><path d="M20.2,-12.6 L20.2,-4.4 M18.8,-10.3 L21.599999999999998,-10.3" fill="none" stroke="#000" stroke-width="0.9"/><text x="17.5" y="4.3" font-family="Liberation Sans, sans-serif" font-size="10.4" fill="#000" stroke="#000" stroke-width="0.2" textLength="11.6" lengthAdjust="spacingAndGlyphs">12</text><text x="29.7" y="0" font-family="Liberation Sans, sans-serif" font-style="italic" font-size="14.2" fill="#000" stroke="#000" stroke-width="0.25">a</text><text x="38.699999999999996" y="4.3" font-family="Liberation Sans, sans-serif" font-size="10.4" fill="#000" stroke="#000" stroke-width="0.2" textLength="11.6" lengthAdjust="spacingAndGlyphs">12</text><path d="M52.1,-10.2 L55.0,-4.3 L52.1,1.6" fill="none" stroke="#000" stroke-width="0.95"/><path d="M9.5,-14.9 L35.7,-20.4 L62.8,-14.9" fill="none" stroke="#000" stroke-width="0.9"/><path d="M61.2,-4.1 L69.2,-4.1" fill="none" stroke="#000" stroke-width="0.95"/><path d="M77.89999999999999,-10.2 L75.0,-4.3 L77.89999999999999,1.6" fill="none" stroke="#000" stroke-width="0.95"/><text x="78.6" y="0" font-family="Liberation Sans, sans-serif" font-style="italic" font-size="14.2" fill="#000" stroke="#000" stroke-width="0.25">a</text><path d="M90.89999999999999,-12.6 L90.89999999999999,-4.4 M89.5,-10.3 L92.3,-10.3" fill="none" stroke="#000" stroke-width="0.9"/><text x="88.19999999999999" y="4.3" font-family="Liberation Sans, sans-serif" font-size="10.4" fill="#000" stroke="#000" stroke-width="0.2" textLength="11.6" lengthAdjust="spacingAndGlyphs">12</text><text x="100.39999999999999" y="0" font-family="Liberation Sans, sans-serif" font-style="italic" font-size="14.2" fill="#000" stroke="#000" stroke-width="0.25">a</text><text x="109.39999999999999" y="4.3" font-family="Liberation Sans, sans-serif" font-size="10.4" fill="#000" stroke="#000" stroke-width="0.2" textLength="11.6" lengthAdjust="spacingAndGlyphs">12</text><path d="M122.8,-10.2 L125.69999999999999,-4.3 L122.8,1.6" fill="none" stroke="#000" stroke-width="0.95"/><path d="M129.85,-10.3 L129.85,3.6" fill="none" stroke="#000" stroke-width="1.0"/></g></svg></body></html>
